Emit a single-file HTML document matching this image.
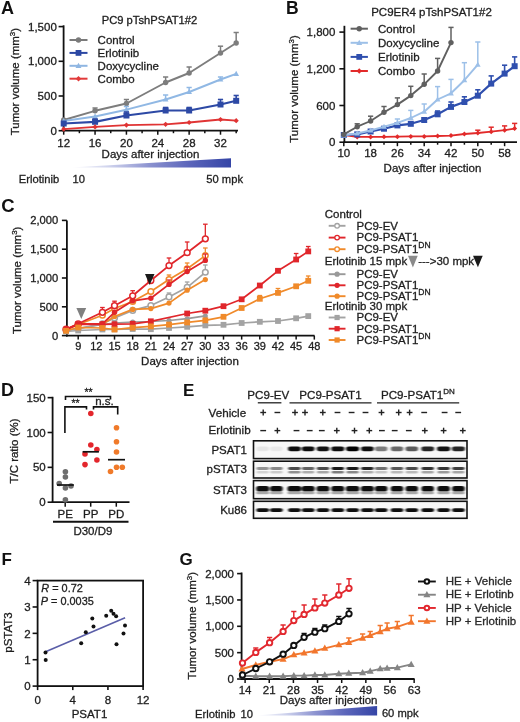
<!DOCTYPE html><html><head><meta charset="utf-8"><title>Figure</title><style>html,body{margin:0;padding:0;background:#fff;}svg{display:block;}text{font-family:"Liberation Sans", Arial, sans-serif;}</style></head><body>
<svg width="520" height="722" viewBox="0 0 520 722">
<rect width="520" height="722" fill="#fff"/>
<defs><linearGradient id="gA" x1="0" x2="1" y1="0" y2="0"><stop offset="0" stop-color="#ffffff"/><stop offset="0.25" stop-color="#cdd1ec"/><stop offset="0.5" stop-color="#8a91cf"/><stop offset="0.75" stop-color="#5a64ba"/><stop offset="1" stop-color="#3545a6"/></linearGradient><linearGradient id="gG" x1="0" x2="1" y1="0" y2="0"><stop offset="0" stop-color="#ffffff"/><stop offset="0.25" stop-color="#cdd1ec"/><stop offset="0.5" stop-color="#8a91cf"/><stop offset="0.75" stop-color="#5a64ba"/><stop offset="1" stop-color="#3545a6"/></linearGradient><filter id="blur1" x="-20%" y="-50%" width="140%" height="200%"><feGaussianBlur stdDeviation="0.9 0.6"/></filter><filter id="blur2" x="-20%" y="-50%" width="140%" height="200%"><feGaussianBlur stdDeviation="1.1"/></filter></defs>
<text x="1.00" y="13.80" font-size="18" text-anchor="start" fill="#111" stroke="#111" stroke-width="0" font-weight="bold" >A</text>
<line x1="63.60" y1="25.30" x2="63.60" y2="131.50" stroke="#111" stroke-width="1.8" />
<line x1="62.70" y1="130.70" x2="238.00" y2="130.70" stroke="#111" stroke-width="1.8" />
<line x1="58.60" y1="130.70" x2="63.60" y2="130.70" stroke="#111" stroke-width="1.6" />
<text x="56.80" y="134.70" font-size="11.5" text-anchor="end" fill="#1e1e1e" stroke="#1e1e1e" stroke-width="0.3" font-weight="normal" >0</text>
<line x1="58.60" y1="96.00" x2="63.60" y2="96.00" stroke="#111" stroke-width="1.6" />
<text x="56.80" y="100.00" font-size="11.5" text-anchor="end" fill="#1e1e1e" stroke="#1e1e1e" stroke-width="0.3" font-weight="normal" >500</text>
<line x1="58.60" y1="61.30" x2="63.60" y2="61.30" stroke="#111" stroke-width="1.6" />
<text x="56.80" y="65.30" font-size="11.5" text-anchor="end" fill="#1e1e1e" stroke="#1e1e1e" stroke-width="0.3" font-weight="normal" >1,000</text>
<line x1="58.60" y1="26.60" x2="63.60" y2="26.60" stroke="#111" stroke-width="1.6" />
<text x="56.80" y="30.60" font-size="11.5" text-anchor="end" fill="#1e1e1e" stroke="#1e1e1e" stroke-width="0.3" font-weight="normal" >1,500</text>
<line x1="63.70" y1="130.70" x2="63.70" y2="134.70" stroke="#111" stroke-width="1.5" />
<line x1="79.38" y1="130.70" x2="79.38" y2="133.20" stroke="#111" stroke-width="1.5" />
<line x1="95.06" y1="130.70" x2="95.06" y2="134.70" stroke="#111" stroke-width="1.5" />
<line x1="110.74" y1="130.70" x2="110.74" y2="133.20" stroke="#111" stroke-width="1.5" />
<line x1="126.42" y1="130.70" x2="126.42" y2="134.70" stroke="#111" stroke-width="1.5" />
<line x1="142.10" y1="130.70" x2="142.10" y2="133.20" stroke="#111" stroke-width="1.5" />
<line x1="157.78" y1="130.70" x2="157.78" y2="134.70" stroke="#111" stroke-width="1.5" />
<line x1="173.46" y1="130.70" x2="173.46" y2="133.20" stroke="#111" stroke-width="1.5" />
<line x1="189.14" y1="130.70" x2="189.14" y2="134.70" stroke="#111" stroke-width="1.5" />
<line x1="204.82" y1="130.70" x2="204.82" y2="133.20" stroke="#111" stroke-width="1.5" />
<line x1="220.50" y1="130.70" x2="220.50" y2="134.70" stroke="#111" stroke-width="1.5" />
<line x1="236.18" y1="130.70" x2="236.18" y2="133.20" stroke="#111" stroke-width="1.5" />
<text x="63.70" y="146.70" font-size="11.5" text-anchor="middle" fill="#1e1e1e" stroke="#1e1e1e" stroke-width="0.3" font-weight="normal" >12</text>
<text x="95.06" y="146.70" font-size="11.5" text-anchor="middle" fill="#1e1e1e" stroke="#1e1e1e" stroke-width="0.3" font-weight="normal" >16</text>
<text x="126.42" y="146.70" font-size="11.5" text-anchor="middle" fill="#1e1e1e" stroke="#1e1e1e" stroke-width="0.3" font-weight="normal" >20</text>
<text x="157.78" y="146.70" font-size="11.5" text-anchor="middle" fill="#1e1e1e" stroke="#1e1e1e" stroke-width="0.3" font-weight="normal" >24</text>
<text x="189.14" y="146.70" font-size="11.5" text-anchor="middle" fill="#1e1e1e" stroke="#1e1e1e" stroke-width="0.3" font-weight="normal" >28</text>
<text x="220.50" y="146.70" font-size="11.5" text-anchor="middle" fill="#1e1e1e" stroke="#1e1e1e" stroke-width="0.3" font-weight="normal" >32</text>
<text x="150.50" y="157.50" font-size="11.5" text-anchor="middle" fill="#1e1e1e" stroke="#1e1e1e" stroke-width="0.3" font-weight="normal" >Days after injection</text>
<text transform="translate(19.20,81.60) rotate(-90)" x="0" y="0" font-size="11.5" text-anchor="middle" fill="#1e1e1e" stroke="#1e1e1e" stroke-width="0.3">Tumor volume (mm<tspan dy="-4" font-size="8">3</tspan><tspan dy="4">)</tspan></text>
<text x="149.50" y="23.80" font-size="11.2" text-anchor="middle" fill="#1e1e1e" stroke="#1e1e1e" stroke-width="0.3" font-weight="normal" >PC9 pTshPSAT1#2</text>
<line x1="69.50" y1="40.00" x2="87.50" y2="40.00" stroke="#7a7a7a" stroke-width="2.0" />
<circle cx="78.50" cy="40.00" r="2.70" fill="#7a7a7a"/>
<text x="97.60" y="43.90" font-size="11.5" text-anchor="start" fill="#1e1e1e" stroke="#1e1e1e" stroke-width="0.3" font-weight="normal" >Control</text>
<line x1="69.50" y1="52.90" x2="87.50" y2="52.90" stroke="#2b47a3" stroke-width="2.0" />
<rect x="75.60" y="50.00" width="5.80" height="5.80" fill="#2b47a3"/>
<text x="97.60" y="56.80" font-size="11.5" text-anchor="start" fill="#1e1e1e" stroke="#1e1e1e" stroke-width="0.3" font-weight="normal" >Erlotinib</text>
<line x1="69.50" y1="65.80" x2="87.50" y2="65.80" stroke="#8fb6e2" stroke-width="2.0" />
<polygon points="78.50,62.70 81.47,67.96 75.53,67.96" fill="#8fb6e2"/>
<text x="97.60" y="69.70" font-size="11.5" text-anchor="start" fill="#1e1e1e" stroke="#1e1e1e" stroke-width="0.3" font-weight="normal" >Doxycycline</text>
<line x1="69.50" y1="78.70" x2="87.50" y2="78.70" stroke="#e23a3a" stroke-width="2.0" />
<polygon points="78.50,76.00 81.20,78.70 78.50,81.40 75.80,78.70" fill="#e23a3a"/>
<text x="97.60" y="82.60" font-size="11.5" text-anchor="start" fill="#1e1e1e" stroke="#1e1e1e" stroke-width="0.3" font-weight="normal" >Combo</text>
<line x1="95.06" y1="110.80" x2="95.06" y2="108.00" stroke="#7d7d7d" stroke-width="1.5" />
<line x1="92.46" y1="108.00" x2="97.66" y2="108.00" stroke="#7d7d7d" stroke-width="1.5" />
<line x1="126.42" y1="103.50" x2="126.42" y2="99.50" stroke="#7d7d7d" stroke-width="1.5" />
<line x1="123.82" y1="99.50" x2="129.02" y2="99.50" stroke="#7d7d7d" stroke-width="1.5" />
<line x1="165.62" y1="82.50" x2="165.62" y2="77.00" stroke="#7d7d7d" stroke-width="1.5" />
<line x1="163.02" y1="77.00" x2="168.22" y2="77.00" stroke="#7d7d7d" stroke-width="1.5" />
<line x1="189.14" y1="73.00" x2="189.14" y2="67.00" stroke="#7d7d7d" stroke-width="1.5" />
<line x1="186.54" y1="67.00" x2="191.74" y2="67.00" stroke="#7d7d7d" stroke-width="1.5" />
<line x1="220.50" y1="53.00" x2="220.50" y2="46.20" stroke="#7d7d7d" stroke-width="1.5" />
<line x1="217.90" y1="46.20" x2="223.10" y2="46.20" stroke="#7d7d7d" stroke-width="1.5" />
<line x1="236.18" y1="43.00" x2="236.18" y2="32.50" stroke="#7d7d7d" stroke-width="1.5" />
<line x1="233.58" y1="32.50" x2="238.78" y2="32.50" stroke="#7d7d7d" stroke-width="1.5" />
<polyline points="63.70,120.00 95.06,110.80 126.42,103.50 165.62,82.50 189.14,73.00 220.50,53.00 236.18,43.00" fill="none" stroke="#7d7d7d" stroke-width="1.9" stroke-linejoin="round" />
<circle cx="63.70" cy="120.00" r="2.70" fill="#7d7d7d"/>
<circle cx="95.06" cy="110.80" r="2.70" fill="#7d7d7d"/>
<circle cx="126.42" cy="103.50" r="2.70" fill="#7d7d7d"/>
<circle cx="165.62" cy="82.50" r="2.70" fill="#7d7d7d"/>
<circle cx="189.14" cy="73.00" r="2.70" fill="#7d7d7d"/>
<circle cx="220.50" cy="53.00" r="2.70" fill="#7d7d7d"/>
<circle cx="236.18" cy="43.00" r="2.70" fill="#7d7d7d"/>
<line x1="126.42" y1="109.70" x2="126.42" y2="106.50" stroke="#90b8e4" stroke-width="1.5" />
<line x1="123.82" y1="106.50" x2="129.02" y2="106.50" stroke="#90b8e4" stroke-width="1.5" />
<line x1="165.62" y1="99.50" x2="165.62" y2="95.00" stroke="#90b8e4" stroke-width="1.5" />
<line x1="163.02" y1="95.00" x2="168.22" y2="95.00" stroke="#90b8e4" stroke-width="1.5" />
<line x1="189.14" y1="92.00" x2="189.14" y2="87.50" stroke="#90b8e4" stroke-width="1.5" />
<line x1="186.54" y1="87.50" x2="191.74" y2="87.50" stroke="#90b8e4" stroke-width="1.5" />
<line x1="220.50" y1="79.50" x2="220.50" y2="77.00" stroke="#90b8e4" stroke-width="1.5" />
<line x1="217.90" y1="77.00" x2="223.10" y2="77.00" stroke="#90b8e4" stroke-width="1.5" />
<polyline points="63.70,121.00 95.06,116.50 126.42,109.70 165.62,99.50 189.14,92.00 220.50,79.50 236.18,73.80" fill="none" stroke="#90b8e4" stroke-width="1.9" stroke-linejoin="round" />
<polygon points="63.70,118.01 66.56,123.08 60.84,123.08" fill="#90b8e4"/>
<polygon points="95.06,113.51 97.92,118.58 92.20,118.58" fill="#90b8e4"/>
<polygon points="126.42,106.71 129.28,111.78 123.56,111.78" fill="#90b8e4"/>
<polygon points="165.62,96.51 168.48,101.58 162.76,101.58" fill="#90b8e4"/>
<polygon points="189.14,89.01 192.00,94.08 186.28,94.08" fill="#90b8e4"/>
<polygon points="220.50,76.51 223.36,81.58 217.64,81.58" fill="#90b8e4"/>
<polygon points="236.18,70.81 239.04,75.88 233.32,75.88" fill="#90b8e4"/>
<line x1="95.06" y1="121.80" x2="95.06" y2="119.00" stroke="#2d49a5" stroke-width="1.6" />
<line x1="92.46" y1="119.00" x2="97.66" y2="119.00" stroke="#2d49a5" stroke-width="1.6" />
<line x1="126.42" y1="115.50" x2="126.42" y2="112.00" stroke="#2d49a5" stroke-width="1.6" />
<line x1="123.82" y1="112.00" x2="129.02" y2="112.00" stroke="#2d49a5" stroke-width="1.6" />
<line x1="165.62" y1="110.50" x2="165.62" y2="107.50" stroke="#2d49a5" stroke-width="1.6" />
<line x1="163.02" y1="107.50" x2="168.22" y2="107.50" stroke="#2d49a5" stroke-width="1.6" />
<line x1="189.14" y1="110.50" x2="189.14" y2="107.50" stroke="#2d49a5" stroke-width="1.6" />
<line x1="186.54" y1="107.50" x2="191.74" y2="107.50" stroke="#2d49a5" stroke-width="1.6" />
<line x1="220.50" y1="104.50" x2="220.50" y2="99.50" stroke="#2d49a5" stroke-width="1.6" />
<line x1="217.90" y1="99.50" x2="223.10" y2="99.50" stroke="#2d49a5" stroke-width="1.6" />
<line x1="236.18" y1="100.80" x2="236.18" y2="95.50" stroke="#2d49a5" stroke-width="1.6" />
<line x1="233.58" y1="95.50" x2="238.78" y2="95.50" stroke="#2d49a5" stroke-width="1.6" />
<polyline points="63.70,123.50 95.06,121.80 126.42,115.50 165.62,110.50 189.14,110.50 220.50,104.50 236.18,100.80" fill="none" stroke="#2d49a5" stroke-width="2.2" stroke-linejoin="round" />
<rect x="60.70" y="120.50" width="6.00" height="6.00" fill="#2d49a5"/>
<rect x="92.06" y="118.80" width="6.00" height="6.00" fill="#2d49a5"/>
<rect x="123.42" y="112.50" width="6.00" height="6.00" fill="#2d49a5"/>
<rect x="162.62" y="107.50" width="6.00" height="6.00" fill="#2d49a5"/>
<rect x="186.14" y="107.50" width="6.00" height="6.00" fill="#2d49a5"/>
<rect x="217.50" y="101.50" width="6.00" height="6.00" fill="#2d49a5"/>
<rect x="233.18" y="97.80" width="6.00" height="6.00" fill="#2d49a5"/>
<polyline points="63.70,129.20 95.06,126.90 126.42,125.10 165.62,124.30 189.14,122.50 220.50,119.50 236.18,120.70" fill="none" stroke="#e03434" stroke-width="1.8" stroke-linejoin="round" />
<polygon points="63.70,126.60 66.30,129.20 63.70,131.80 61.10,129.20" fill="#e03434"/>
<polygon points="95.06,124.30 97.66,126.90 95.06,129.50 92.46,126.90" fill="#e03434"/>
<polygon points="126.42,122.50 129.02,125.10 126.42,127.70 123.82,125.10" fill="#e03434"/>
<polygon points="165.62,121.70 168.22,124.30 165.62,126.90 163.02,124.30" fill="#e03434"/>
<polygon points="189.14,119.90 191.74,122.50 189.14,125.10 186.54,122.50" fill="#e03434"/>
<polygon points="220.50,116.90 223.10,119.50 220.50,122.10 217.90,119.50" fill="#e03434"/>
<polygon points="236.18,118.10 238.78,120.70 236.18,123.30 233.58,120.70" fill="#e03434"/>
<polygon points="70,167.5 231,158.3 231,167.5" fill="url(#gA)"/>
<text x="18.75" y="182.70" font-size="11.2" text-anchor="start" fill="#1e1e1e" stroke="#1e1e1e" stroke-width="0.3" font-weight="normal" >Erlotinib</text>
<text x="72.50" y="182.70" font-size="11.2" text-anchor="start" fill="#1e1e1e" stroke="#1e1e1e" stroke-width="0.3" font-weight="normal" >10</text>
<text x="206.30" y="183.00" font-size="11.2" text-anchor="start" fill="#1e1e1e" stroke="#1e1e1e" stroke-width="0.3" font-weight="normal" >50 mpk</text>
<text x="286.00" y="13.60" font-size="17.5" text-anchor="start" fill="#111" stroke="#111" stroke-width="0" font-weight="bold" >B</text>
<line x1="344.40" y1="25.80" x2="344.40" y2="143.00" stroke="#111" stroke-width="1.8" />
<line x1="343.50" y1="142.20" x2="517.00" y2="142.20" stroke="#111" stroke-width="1.8" />
<line x1="339.40" y1="142.20" x2="344.40" y2="142.20" stroke="#111" stroke-width="1.6" />
<text x="335.40" y="146.20" font-size="11.5" text-anchor="end" fill="#1e1e1e" stroke="#1e1e1e" stroke-width="0.3" font-weight="normal" >0</text>
<line x1="339.40" y1="105.50" x2="344.40" y2="105.50" stroke="#111" stroke-width="1.6" />
<text x="335.40" y="109.50" font-size="11.5" text-anchor="end" fill="#1e1e1e" stroke="#1e1e1e" stroke-width="0.3" font-weight="normal" >600</text>
<line x1="339.40" y1="68.80" x2="344.40" y2="68.80" stroke="#111" stroke-width="1.6" />
<text x="335.40" y="72.80" font-size="11.5" text-anchor="end" fill="#1e1e1e" stroke="#1e1e1e" stroke-width="0.3" font-weight="normal" >1,200</text>
<line x1="339.40" y1="32.10" x2="344.40" y2="32.10" stroke="#111" stroke-width="1.6" />
<text x="335.40" y="36.10" font-size="11.5" text-anchor="end" fill="#1e1e1e" stroke="#1e1e1e" stroke-width="0.3" font-weight="normal" >1,800</text>
<line x1="343.80" y1="142.20" x2="343.80" y2="146.20" stroke="#111" stroke-width="1.5" />
<line x1="357.20" y1="142.20" x2="357.20" y2="144.70" stroke="#111" stroke-width="1.5" />
<line x1="370.60" y1="142.20" x2="370.60" y2="146.20" stroke="#111" stroke-width="1.5" />
<line x1="384.00" y1="142.20" x2="384.00" y2="144.70" stroke="#111" stroke-width="1.5" />
<line x1="397.40" y1="142.20" x2="397.40" y2="146.20" stroke="#111" stroke-width="1.5" />
<line x1="410.80" y1="142.20" x2="410.80" y2="144.70" stroke="#111" stroke-width="1.5" />
<line x1="424.20" y1="142.20" x2="424.20" y2="146.20" stroke="#111" stroke-width="1.5" />
<line x1="437.60" y1="142.20" x2="437.60" y2="144.70" stroke="#111" stroke-width="1.5" />
<line x1="451.00" y1="142.20" x2="451.00" y2="146.20" stroke="#111" stroke-width="1.5" />
<line x1="464.40" y1="142.20" x2="464.40" y2="144.70" stroke="#111" stroke-width="1.5" />
<line x1="477.80" y1="142.20" x2="477.80" y2="146.20" stroke="#111" stroke-width="1.5" />
<line x1="491.20" y1="142.20" x2="491.20" y2="144.70" stroke="#111" stroke-width="1.5" />
<line x1="504.60" y1="142.20" x2="504.60" y2="146.20" stroke="#111" stroke-width="1.5" />
<text x="343.80" y="157.40" font-size="11.5" text-anchor="middle" fill="#1e1e1e" stroke="#1e1e1e" stroke-width="0.3" font-weight="normal" >10</text>
<text x="370.60" y="157.40" font-size="11.5" text-anchor="middle" fill="#1e1e1e" stroke="#1e1e1e" stroke-width="0.3" font-weight="normal" >18</text>
<text x="397.40" y="157.40" font-size="11.5" text-anchor="middle" fill="#1e1e1e" stroke="#1e1e1e" stroke-width="0.3" font-weight="normal" >26</text>
<text x="424.20" y="157.40" font-size="11.5" text-anchor="middle" fill="#1e1e1e" stroke="#1e1e1e" stroke-width="0.3" font-weight="normal" >34</text>
<text x="451.00" y="157.40" font-size="11.5" text-anchor="middle" fill="#1e1e1e" stroke="#1e1e1e" stroke-width="0.3" font-weight="normal" >42</text>
<text x="477.80" y="157.40" font-size="11.5" text-anchor="middle" fill="#1e1e1e" stroke="#1e1e1e" stroke-width="0.3" font-weight="normal" >50</text>
<text x="504.60" y="157.40" font-size="11.5" text-anchor="middle" fill="#1e1e1e" stroke="#1e1e1e" stroke-width="0.3" font-weight="normal" >58</text>
<text x="432.50" y="172.00" font-size="11.5" text-anchor="middle" fill="#1e1e1e" stroke="#1e1e1e" stroke-width="0.3" font-weight="normal" >Days after injection</text>
<text transform="translate(297.50,89.00) rotate(-90)" x="0" y="0" font-size="11.5" text-anchor="middle" fill="#1e1e1e" stroke="#1e1e1e" stroke-width="0.3">Tumor volume (mm<tspan dy="-4" font-size="8">3</tspan><tspan dy="4">)</tspan></text>
<text x="431.50" y="16.30" font-size="11.5" text-anchor="middle" fill="#1e1e1e" stroke="#1e1e1e" stroke-width="0.3" font-weight="normal" >PC9ER4 pTshPSAT1#2</text>
<line x1="350.60" y1="28.70" x2="367.90" y2="28.70" stroke="#606060" stroke-width="2.0" />
<circle cx="359.25" cy="28.70" r="2.70" fill="#606060"/>
<text x="378.00" y="32.60" font-size="11.5" text-anchor="start" fill="#1e1e1e" stroke="#1e1e1e" stroke-width="0.3" font-weight="normal" >Control</text>
<line x1="350.60" y1="42.80" x2="367.90" y2="42.80" stroke="#9dc0e8" stroke-width="2.0" />
<polygon points="359.25,39.70 362.22,44.96 356.28,44.96" fill="#9dc0e8"/>
<text x="378.00" y="46.70" font-size="11.5" text-anchor="start" fill="#1e1e1e" stroke="#1e1e1e" stroke-width="0.3" font-weight="normal" >Doxycycline</text>
<line x1="350.60" y1="56.90" x2="367.90" y2="56.90" stroke="#2f4fae" stroke-width="2.0" />
<rect x="356.35" y="54.00" width="5.80" height="5.80" fill="#2f4fae"/>
<text x="378.00" y="60.80" font-size="11.5" text-anchor="start" fill="#1e1e1e" stroke="#1e1e1e" stroke-width="0.3" font-weight="normal" >Erlotinib</text>
<line x1="350.60" y1="71.00" x2="367.90" y2="71.00" stroke="#e22a2a" stroke-width="2.0" />
<polygon points="359.25,68.30 361.95,71.00 359.25,73.70 356.55,71.00" fill="#e22a2a"/>
<text x="378.00" y="74.90" font-size="11.5" text-anchor="start" fill="#1e1e1e" stroke="#1e1e1e" stroke-width="0.3" font-weight="normal" >Combo</text>
<line x1="477.80" y1="133.00" x2="477.80" y2="130.20" stroke="#e22a2a" stroke-width="1.5" />
<line x1="475.20" y1="130.20" x2="480.40" y2="130.20" stroke="#e22a2a" stroke-width="1.5" />
<line x1="491.20" y1="131.70" x2="491.20" y2="127.20" stroke="#e22a2a" stroke-width="1.5" />
<line x1="488.60" y1="127.20" x2="493.80" y2="127.20" stroke="#e22a2a" stroke-width="1.5" />
<line x1="504.60" y1="130.20" x2="504.60" y2="125.90" stroke="#e22a2a" stroke-width="1.5" />
<line x1="502.00" y1="125.90" x2="507.20" y2="125.90" stroke="#e22a2a" stroke-width="1.5" />
<line x1="514.65" y1="128.60" x2="514.65" y2="123.40" stroke="#e22a2a" stroke-width="1.5" />
<line x1="512.05" y1="123.40" x2="517.25" y2="123.40" stroke="#e22a2a" stroke-width="1.5" />
<polyline points="343.80,135.00 357.20,136.90 370.60,136.90 384.00,136.80 397.40,136.70 410.80,136.40 424.20,136.40 437.60,136.00 451.00,135.60 464.40,134.00 477.80,133.00 491.20,131.70 504.60,130.20 514.65,128.60" fill="none" stroke="#e22a2a" stroke-width="1.8" stroke-linejoin="round" />
<polygon points="343.80,132.50 346.30,135.00 343.80,137.50 341.30,135.00" fill="#e22a2a"/>
<polygon points="357.20,134.40 359.70,136.90 357.20,139.40 354.70,136.90" fill="#e22a2a"/>
<polygon points="370.60,134.40 373.10,136.90 370.60,139.40 368.10,136.90" fill="#e22a2a"/>
<polygon points="384.00,134.30 386.50,136.80 384.00,139.30 381.50,136.80" fill="#e22a2a"/>
<polygon points="397.40,134.20 399.90,136.70 397.40,139.20 394.90,136.70" fill="#e22a2a"/>
<polygon points="410.80,133.90 413.30,136.40 410.80,138.90 408.30,136.40" fill="#e22a2a"/>
<polygon points="424.20,133.90 426.70,136.40 424.20,138.90 421.70,136.40" fill="#e22a2a"/>
<polygon points="437.60,133.50 440.10,136.00 437.60,138.50 435.10,136.00" fill="#e22a2a"/>
<polygon points="451.00,133.10 453.50,135.60 451.00,138.10 448.50,135.60" fill="#e22a2a"/>
<polygon points="464.40,131.50 466.90,134.00 464.40,136.50 461.90,134.00" fill="#e22a2a"/>
<polygon points="477.80,130.50 480.30,133.00 477.80,135.50 475.30,133.00" fill="#e22a2a"/>
<polygon points="491.20,129.20 493.70,131.70 491.20,134.20 488.70,131.70" fill="#e22a2a"/>
<polygon points="504.60,127.70 507.10,130.20 504.60,132.70 502.10,130.20" fill="#e22a2a"/>
<polygon points="514.65,126.10 517.15,128.60 514.65,131.10 512.15,128.60" fill="#e22a2a"/>
<line x1="437.60" y1="114.30" x2="437.60" y2="111.00" stroke="#2f4fae" stroke-width="1.6" />
<line x1="435.00" y1="111.00" x2="440.20" y2="111.00" stroke="#2f4fae" stroke-width="1.6" />
<line x1="451.00" y1="106.90" x2="451.00" y2="102.00" stroke="#2f4fae" stroke-width="1.6" />
<line x1="448.40" y1="102.00" x2="453.60" y2="102.00" stroke="#2f4fae" stroke-width="1.6" />
<line x1="464.40" y1="102.00" x2="464.40" y2="96.80" stroke="#2f4fae" stroke-width="1.6" />
<line x1="461.80" y1="96.80" x2="467.00" y2="96.80" stroke="#2f4fae" stroke-width="1.6" />
<line x1="477.80" y1="95.70" x2="477.80" y2="89.80" stroke="#2f4fae" stroke-width="1.6" />
<line x1="475.20" y1="89.80" x2="480.40" y2="89.80" stroke="#2f4fae" stroke-width="1.6" />
<line x1="491.20" y1="83.60" x2="491.20" y2="75.90" stroke="#2f4fae" stroke-width="1.6" />
<line x1="488.60" y1="75.90" x2="493.80" y2="75.90" stroke="#2f4fae" stroke-width="1.6" />
<line x1="504.60" y1="73.60" x2="504.60" y2="65.20" stroke="#2f4fae" stroke-width="1.6" />
<line x1="502.00" y1="65.20" x2="507.20" y2="65.20" stroke="#2f4fae" stroke-width="1.6" />
<line x1="514.65" y1="66.20" x2="514.65" y2="56.90" stroke="#2f4fae" stroke-width="1.6" />
<line x1="512.05" y1="56.90" x2="517.25" y2="56.90" stroke="#2f4fae" stroke-width="1.6" />
<polyline points="343.80,135.00 357.20,134.40 370.60,131.50 384.00,128.70 397.40,125.40 410.80,123.80 424.20,120.00 437.60,114.30 451.00,106.90 464.40,102.00 477.80,95.70 491.20,83.60 504.60,73.60 514.65,66.20" fill="none" stroke="#2f4fae" stroke-width="2.2" stroke-linejoin="round" />
<rect x="340.80" y="132.00" width="6.00" height="6.00" fill="#2f4fae"/>
<rect x="354.20" y="131.40" width="6.00" height="6.00" fill="#2f4fae"/>
<rect x="367.60" y="128.50" width="6.00" height="6.00" fill="#2f4fae"/>
<rect x="381.00" y="125.70" width="6.00" height="6.00" fill="#2f4fae"/>
<rect x="394.40" y="122.40" width="6.00" height="6.00" fill="#2f4fae"/>
<rect x="407.80" y="120.80" width="6.00" height="6.00" fill="#2f4fae"/>
<rect x="421.20" y="117.00" width="6.00" height="6.00" fill="#2f4fae"/>
<rect x="434.60" y="111.30" width="6.00" height="6.00" fill="#2f4fae"/>
<rect x="448.00" y="103.90" width="6.00" height="6.00" fill="#2f4fae"/>
<rect x="461.40" y="99.00" width="6.00" height="6.00" fill="#2f4fae"/>
<rect x="474.80" y="92.70" width="6.00" height="6.00" fill="#2f4fae"/>
<rect x="488.20" y="80.60" width="6.00" height="6.00" fill="#2f4fae"/>
<rect x="501.60" y="70.60" width="6.00" height="6.00" fill="#2f4fae"/>
<rect x="511.65" y="63.20" width="6.00" height="6.00" fill="#2f4fae"/>
<line x1="397.40" y1="122.90" x2="397.40" y2="119.00" stroke="#9dc0e8" stroke-width="1.5" />
<line x1="394.80" y1="119.00" x2="400.00" y2="119.00" stroke="#9dc0e8" stroke-width="1.5" />
<line x1="410.80" y1="118.00" x2="410.80" y2="110.40" stroke="#9dc0e8" stroke-width="1.5" />
<line x1="408.20" y1="110.40" x2="413.40" y2="110.40" stroke="#9dc0e8" stroke-width="1.5" />
<line x1="424.20" y1="111.70" x2="424.20" y2="104.00" stroke="#9dc0e8" stroke-width="1.5" />
<line x1="421.60" y1="104.00" x2="426.80" y2="104.00" stroke="#9dc0e8" stroke-width="1.5" />
<line x1="437.60" y1="99.50" x2="437.60" y2="86.60" stroke="#9dc0e8" stroke-width="1.5" />
<line x1="435.00" y1="86.60" x2="440.20" y2="86.60" stroke="#9dc0e8" stroke-width="1.5" />
<line x1="451.00" y1="93.30" x2="451.00" y2="79.40" stroke="#9dc0e8" stroke-width="1.5" />
<line x1="448.40" y1="79.40" x2="453.60" y2="79.40" stroke="#9dc0e8" stroke-width="1.5" />
<line x1="464.40" y1="80.20" x2="464.40" y2="62.70" stroke="#9dc0e8" stroke-width="1.5" />
<line x1="461.80" y1="62.70" x2="467.00" y2="62.70" stroke="#9dc0e8" stroke-width="1.5" />
<line x1="477.80" y1="64.70" x2="477.80" y2="42.00" stroke="#9dc0e8" stroke-width="1.5" />
<line x1="475.20" y1="42.00" x2="480.40" y2="42.00" stroke="#9dc0e8" stroke-width="1.5" />
<polyline points="343.80,135.40 357.20,133.50 370.60,130.50 384.00,126.70 397.40,122.90 410.80,118.00 424.20,111.70 437.60,99.50 451.00,93.30 464.40,80.20 477.80,64.70" fill="none" stroke="#9dc0e8" stroke-width="1.9" stroke-linejoin="round" />
<polygon points="343.80,132.41 346.66,137.48 340.94,137.48" fill="#9dc0e8"/>
<polygon points="357.20,130.51 360.06,135.58 354.34,135.58" fill="#9dc0e8"/>
<polygon points="370.60,127.51 373.46,132.58 367.74,132.58" fill="#9dc0e8"/>
<polygon points="384.00,123.71 386.86,128.78 381.14,128.78" fill="#9dc0e8"/>
<polygon points="397.40,119.91 400.26,124.98 394.54,124.98" fill="#9dc0e8"/>
<polygon points="410.80,115.01 413.66,120.08 407.94,120.08" fill="#9dc0e8"/>
<polygon points="424.20,108.71 427.06,113.78 421.34,113.78" fill="#9dc0e8"/>
<polygon points="437.60,96.51 440.46,101.58 434.74,101.58" fill="#9dc0e8"/>
<polygon points="451.00,90.31 453.86,95.38 448.14,95.38" fill="#9dc0e8"/>
<polygon points="464.40,77.21 467.26,82.28 461.54,82.28" fill="#9dc0e8"/>
<polygon points="477.80,61.71 480.66,66.78 474.94,66.78" fill="#9dc0e8"/>
<line x1="357.20" y1="126.70" x2="357.20" y2="123.80" stroke="#606060" stroke-width="1.5" />
<line x1="354.60" y1="123.80" x2="359.80" y2="123.80" stroke="#606060" stroke-width="1.5" />
<line x1="370.60" y1="121.00" x2="370.60" y2="116.20" stroke="#606060" stroke-width="1.5" />
<line x1="368.00" y1="116.20" x2="373.20" y2="116.20" stroke="#606060" stroke-width="1.5" />
<line x1="384.00" y1="112.30" x2="384.00" y2="106.50" stroke="#606060" stroke-width="1.5" />
<line x1="381.40" y1="106.50" x2="386.60" y2="106.50" stroke="#606060" stroke-width="1.5" />
<line x1="397.40" y1="104.60" x2="397.40" y2="97.90" stroke="#606060" stroke-width="1.5" />
<line x1="394.80" y1="97.90" x2="400.00" y2="97.90" stroke="#606060" stroke-width="1.5" />
<line x1="410.80" y1="95.60" x2="410.80" y2="86.30" stroke="#606060" stroke-width="1.5" />
<line x1="408.20" y1="86.30" x2="413.40" y2="86.30" stroke="#606060" stroke-width="1.5" />
<line x1="424.20" y1="84.30" x2="424.20" y2="74.00" stroke="#606060" stroke-width="1.5" />
<line x1="421.60" y1="74.00" x2="426.80" y2="74.00" stroke="#606060" stroke-width="1.5" />
<line x1="437.60" y1="71.00" x2="437.60" y2="58.40" stroke="#606060" stroke-width="1.5" />
<line x1="435.00" y1="58.40" x2="440.20" y2="58.40" stroke="#606060" stroke-width="1.5" />
<line x1="451.00" y1="42.60" x2="451.00" y2="27.40" stroke="#606060" stroke-width="1.5" />
<line x1="448.40" y1="27.40" x2="453.60" y2="27.40" stroke="#606060" stroke-width="1.5" />
<polyline points="343.80,134.40 357.20,126.70 370.60,121.00 384.00,112.30 397.40,104.60 410.80,95.60 424.20,84.30 437.60,71.00 451.00,42.60" fill="none" stroke="#606060" stroke-width="1.9" stroke-linejoin="round" />
<circle cx="343.80" cy="134.40" r="2.70" fill="#606060"/>
<circle cx="357.20" cy="126.70" r="2.70" fill="#606060"/>
<circle cx="370.60" cy="121.00" r="2.70" fill="#606060"/>
<circle cx="384.00" cy="112.30" r="2.70" fill="#606060"/>
<circle cx="397.40" cy="104.60" r="2.70" fill="#606060"/>
<circle cx="410.80" cy="95.60" r="2.70" fill="#606060"/>
<circle cx="424.20" cy="84.30" r="2.70" fill="#606060"/>
<circle cx="437.60" cy="71.00" r="2.70" fill="#606060"/>
<circle cx="451.00" cy="42.60" r="2.70" fill="#606060"/>
<text x="1.20" y="211.80" font-size="18.5" text-anchor="start" fill="#111" stroke="#111" stroke-width="0" font-weight="bold" >C</text>
<line x1="66.90" y1="220.50" x2="66.90" y2="336.40" stroke="#111" stroke-width="1.8" />
<line x1="66.00" y1="335.60" x2="314.50" y2="335.60" stroke="#111" stroke-width="1.8" />
<line x1="61.90" y1="335.60" x2="66.90" y2="335.60" stroke="#111" stroke-width="1.6" />
<text x="58.20" y="339.60" font-size="11.2" text-anchor="end" fill="#1e1e1e" stroke="#1e1e1e" stroke-width="0.3" font-weight="normal" >0</text>
<line x1="61.90" y1="306.80" x2="66.90" y2="306.80" stroke="#111" stroke-width="1.6" />
<text x="58.20" y="310.80" font-size="11.2" text-anchor="end" fill="#1e1e1e" stroke="#1e1e1e" stroke-width="0.3" font-weight="normal" >500</text>
<line x1="61.90" y1="278.00" x2="66.90" y2="278.00" stroke="#111" stroke-width="1.6" />
<text x="58.20" y="282.00" font-size="11.2" text-anchor="end" fill="#1e1e1e" stroke="#1e1e1e" stroke-width="0.3" font-weight="normal" >1,000</text>
<line x1="61.90" y1="249.20" x2="66.90" y2="249.20" stroke="#111" stroke-width="1.6" />
<text x="58.20" y="253.20" font-size="11.2" text-anchor="end" fill="#1e1e1e" stroke="#1e1e1e" stroke-width="0.3" font-weight="normal" >1,500</text>
<line x1="61.90" y1="220.40" x2="66.90" y2="220.40" stroke="#111" stroke-width="1.6" />
<text x="58.20" y="224.40" font-size="11.2" text-anchor="end" fill="#1e1e1e" stroke="#1e1e1e" stroke-width="0.3" font-weight="normal" >2,000</text>
<line x1="78.20" y1="335.60" x2="78.20" y2="339.60" stroke="#111" stroke-width="1.5" />
<text x="78.20" y="350.10" font-size="11" text-anchor="middle" fill="#1e1e1e" stroke="#1e1e1e" stroke-width="0.3" font-weight="normal" >9</text>
<line x1="96.36" y1="335.60" x2="96.36" y2="339.60" stroke="#111" stroke-width="1.5" />
<text x="96.36" y="350.10" font-size="11" text-anchor="middle" fill="#1e1e1e" stroke="#1e1e1e" stroke-width="0.3" font-weight="normal" >12</text>
<line x1="114.52" y1="335.60" x2="114.52" y2="339.60" stroke="#111" stroke-width="1.5" />
<text x="114.52" y="350.10" font-size="11" text-anchor="middle" fill="#1e1e1e" stroke="#1e1e1e" stroke-width="0.3" font-weight="normal" >15</text>
<line x1="132.69" y1="335.60" x2="132.69" y2="339.60" stroke="#111" stroke-width="1.5" />
<text x="132.69" y="350.10" font-size="11" text-anchor="middle" fill="#1e1e1e" stroke="#1e1e1e" stroke-width="0.3" font-weight="normal" >18</text>
<line x1="150.85" y1="335.60" x2="150.85" y2="339.60" stroke="#111" stroke-width="1.5" />
<text x="150.85" y="350.10" font-size="11" text-anchor="middle" fill="#1e1e1e" stroke="#1e1e1e" stroke-width="0.3" font-weight="normal" >21</text>
<line x1="169.01" y1="335.60" x2="169.01" y2="339.60" stroke="#111" stroke-width="1.5" />
<text x="169.01" y="350.10" font-size="11" text-anchor="middle" fill="#1e1e1e" stroke="#1e1e1e" stroke-width="0.3" font-weight="normal" >24</text>
<line x1="187.17" y1="335.60" x2="187.17" y2="339.60" stroke="#111" stroke-width="1.5" />
<text x="187.17" y="350.10" font-size="11" text-anchor="middle" fill="#1e1e1e" stroke="#1e1e1e" stroke-width="0.3" font-weight="normal" >27</text>
<line x1="205.33" y1="335.60" x2="205.33" y2="339.60" stroke="#111" stroke-width="1.5" />
<text x="205.33" y="350.10" font-size="11" text-anchor="middle" fill="#1e1e1e" stroke="#1e1e1e" stroke-width="0.3" font-weight="normal" >30</text>
<line x1="223.50" y1="335.60" x2="223.50" y2="339.60" stroke="#111" stroke-width="1.5" />
<text x="223.50" y="350.10" font-size="11" text-anchor="middle" fill="#1e1e1e" stroke="#1e1e1e" stroke-width="0.3" font-weight="normal" >33</text>
<line x1="241.66" y1="335.60" x2="241.66" y2="339.60" stroke="#111" stroke-width="1.5" />
<text x="241.66" y="350.10" font-size="11" text-anchor="middle" fill="#1e1e1e" stroke="#1e1e1e" stroke-width="0.3" font-weight="normal" >36</text>
<line x1="259.82" y1="335.60" x2="259.82" y2="339.60" stroke="#111" stroke-width="1.5" />
<text x="259.82" y="350.10" font-size="11" text-anchor="middle" fill="#1e1e1e" stroke="#1e1e1e" stroke-width="0.3" font-weight="normal" >39</text>
<line x1="277.98" y1="335.60" x2="277.98" y2="339.60" stroke="#111" stroke-width="1.5" />
<text x="277.98" y="350.10" font-size="11" text-anchor="middle" fill="#1e1e1e" stroke="#1e1e1e" stroke-width="0.3" font-weight="normal" >42</text>
<line x1="296.14" y1="335.60" x2="296.14" y2="339.60" stroke="#111" stroke-width="1.5" />
<text x="296.14" y="350.10" font-size="11" text-anchor="middle" fill="#1e1e1e" stroke="#1e1e1e" stroke-width="0.3" font-weight="normal" >45</text>
<line x1="314.31" y1="335.60" x2="314.31" y2="339.60" stroke="#111" stroke-width="1.5" />
<text x="314.31" y="350.10" font-size="11" text-anchor="middle" fill="#1e1e1e" stroke="#1e1e1e" stroke-width="0.3" font-weight="normal" >48</text>
<text x="190.00" y="365.20" font-size="11.5" text-anchor="middle" fill="#1e1e1e" stroke="#1e1e1e" stroke-width="0.3" font-weight="normal" >Days after injection</text>
<text transform="translate(20.60,280.30) rotate(-90)" x="0" y="0" font-size="11.5" text-anchor="middle" fill="#1e1e1e" stroke="#1e1e1e" stroke-width="0.3">Tumor volume (mm<tspan dy="-4" font-size="8">3</tspan><tspan dy="4">)</tspan></text>
<polyline points="66.09,330.50 78.20,328.50 102.42,324.50 114.52,323.00 132.69,322.00 150.85,321.50 169.01,320.50 187.17,318.70 205.33,315.90" fill="none" stroke="#9a9a9a" stroke-width="1.7" stroke-linejoin="round" />
<circle cx="66.09" cy="330.50" r="2.50" fill="#9a9a9a"/>
<circle cx="78.20" cy="328.50" r="2.50" fill="#9a9a9a"/>
<circle cx="102.42" cy="324.50" r="2.50" fill="#9a9a9a"/>
<circle cx="114.52" cy="323.00" r="2.50" fill="#9a9a9a"/>
<circle cx="132.69" cy="322.00" r="2.50" fill="#9a9a9a"/>
<circle cx="150.85" cy="321.50" r="2.50" fill="#9a9a9a"/>
<circle cx="169.01" cy="320.50" r="2.50" fill="#9a9a9a"/>
<circle cx="187.17" cy="318.70" r="2.50" fill="#9a9a9a"/>
<circle cx="205.33" cy="315.90" r="2.50" fill="#9a9a9a"/>
<line x1="169.01" y1="296.90" x2="169.01" y2="293.00" stroke="#a3a3a3" stroke-width="1.3" />
<line x1="166.71" y1="293.00" x2="171.31" y2="293.00" stroke="#a3a3a3" stroke-width="1.3" />
<line x1="187.17" y1="287.30" x2="187.17" y2="282.00" stroke="#a3a3a3" stroke-width="1.3" />
<line x1="184.87" y1="282.00" x2="189.47" y2="282.00" stroke="#a3a3a3" stroke-width="1.3" />
<line x1="205.33" y1="272.30" x2="205.33" y2="265.00" stroke="#a3a3a3" stroke-width="1.3" />
<line x1="203.03" y1="265.00" x2="207.63" y2="265.00" stroke="#a3a3a3" stroke-width="1.3" />
<polyline points="66.09,330.50 78.20,328.50 102.42,323.80 114.52,318.00 132.69,310.40 150.85,305.60 169.01,296.90 187.17,287.30 205.33,272.30" fill="none" stroke="#a3a3a3" stroke-width="1.7" stroke-linejoin="round" />
<circle cx="66.09" cy="330.50" r="2.80" fill="#fff" stroke="#a3a3a3" stroke-width="1.5"/>
<circle cx="78.20" cy="328.50" r="2.80" fill="#fff" stroke="#a3a3a3" stroke-width="1.5"/>
<circle cx="102.42" cy="323.80" r="2.80" fill="#fff" stroke="#a3a3a3" stroke-width="1.5"/>
<circle cx="114.52" cy="318.00" r="2.80" fill="#fff" stroke="#a3a3a3" stroke-width="1.5"/>
<circle cx="132.69" cy="310.40" r="2.80" fill="#fff" stroke="#a3a3a3" stroke-width="1.5"/>
<circle cx="150.85" cy="305.60" r="2.80" fill="#fff" stroke="#a3a3a3" stroke-width="1.5"/>
<circle cx="169.01" cy="296.90" r="2.80" fill="#fff" stroke="#a3a3a3" stroke-width="1.5"/>
<circle cx="187.17" cy="287.30" r="2.80" fill="#fff" stroke="#a3a3a3" stroke-width="1.5"/>
<circle cx="205.33" cy="272.30" r="2.80" fill="#fff" stroke="#a3a3a3" stroke-width="1.5"/>
<polyline points="66.09,329.80 78.20,324.20 102.42,324.20 114.52,316.50 132.69,309.40 150.85,308.60 169.01,303.10 187.17,290.20 205.33,279.60" fill="none" stroke="#f08a2a" stroke-width="1.7" stroke-linejoin="round" />
<circle cx="66.09" cy="329.80" r="2.60" fill="#f08a2a"/>
<circle cx="78.20" cy="324.20" r="2.60" fill="#f08a2a"/>
<circle cx="102.42" cy="324.20" r="2.60" fill="#f08a2a"/>
<circle cx="114.52" cy="316.50" r="2.60" fill="#f08a2a"/>
<circle cx="132.69" cy="309.40" r="2.60" fill="#f08a2a"/>
<circle cx="150.85" cy="308.60" r="2.60" fill="#f08a2a"/>
<circle cx="169.01" cy="303.10" r="2.60" fill="#f08a2a"/>
<circle cx="187.17" cy="290.20" r="2.60" fill="#f08a2a"/>
<circle cx="205.33" cy="279.60" r="2.60" fill="#f08a2a"/>
<line x1="169.01" y1="279.50" x2="169.01" y2="275.00" stroke="#f08a2a" stroke-width="1.3" />
<line x1="166.71" y1="275.00" x2="171.31" y2="275.00" stroke="#f08a2a" stroke-width="1.3" />
<line x1="187.17" y1="268.80" x2="187.17" y2="263.00" stroke="#f08a2a" stroke-width="1.3" />
<line x1="184.87" y1="263.00" x2="189.47" y2="263.00" stroke="#f08a2a" stroke-width="1.3" />
<line x1="205.33" y1="255.60" x2="205.33" y2="248.00" stroke="#f08a2a" stroke-width="1.3" />
<line x1="203.03" y1="248.00" x2="207.63" y2="248.00" stroke="#f08a2a" stroke-width="1.3" />
<polyline points="66.09,329.60 78.20,324.50 102.42,315.20 114.52,308.50 132.69,301.50 150.85,291.50 169.01,279.50 187.17,268.80 205.33,255.60" fill="none" stroke="#f08a2a" stroke-width="1.7" stroke-linejoin="round" />
<circle cx="66.09" cy="329.60" r="2.80" fill="#fff" stroke="#f08a2a" stroke-width="1.5"/>
<circle cx="78.20" cy="324.50" r="2.80" fill="#fff" stroke="#f08a2a" stroke-width="1.5"/>
<circle cx="102.42" cy="315.20" r="2.80" fill="#fff" stroke="#f08a2a" stroke-width="1.5"/>
<circle cx="114.52" cy="308.50" r="2.80" fill="#fff" stroke="#f08a2a" stroke-width="1.5"/>
<circle cx="132.69" cy="301.50" r="2.80" fill="#fff" stroke="#f08a2a" stroke-width="1.5"/>
<circle cx="150.85" cy="291.50" r="2.80" fill="#fff" stroke="#f08a2a" stroke-width="1.5"/>
<circle cx="169.01" cy="279.50" r="2.80" fill="#fff" stroke="#f08a2a" stroke-width="1.5"/>
<circle cx="187.17" cy="268.80" r="2.80" fill="#fff" stroke="#f08a2a" stroke-width="1.5"/>
<circle cx="205.33" cy="255.60" r="2.80" fill="#fff" stroke="#f08a2a" stroke-width="1.5"/>
<line x1="169.01" y1="284.40" x2="169.01" y2="280.00" stroke="#e0262b" stroke-width="1.3" />
<line x1="166.71" y1="280.00" x2="171.31" y2="280.00" stroke="#e0262b" stroke-width="1.3" />
<line x1="187.17" y1="271.50" x2="187.17" y2="267.00" stroke="#e0262b" stroke-width="1.3" />
<line x1="184.87" y1="267.00" x2="189.47" y2="267.00" stroke="#e0262b" stroke-width="1.3" />
<line x1="205.33" y1="260.40" x2="205.33" y2="254.00" stroke="#e0262b" stroke-width="1.3" />
<line x1="203.03" y1="254.00" x2="207.63" y2="254.00" stroke="#e0262b" stroke-width="1.3" />
<polyline points="66.09,329.60 78.20,323.80 102.42,323.80 114.52,312.30 132.69,300.80 150.85,298.20 169.01,284.40 187.17,271.50 205.33,260.40" fill="none" stroke="#e0262b" stroke-width="1.8" stroke-linejoin="round" />
<circle cx="66.09" cy="329.60" r="2.70" fill="#e0262b"/>
<circle cx="78.20" cy="323.80" r="2.70" fill="#e0262b"/>
<circle cx="102.42" cy="323.80" r="2.70" fill="#e0262b"/>
<circle cx="114.52" cy="312.30" r="2.70" fill="#e0262b"/>
<circle cx="132.69" cy="300.80" r="2.70" fill="#e0262b"/>
<circle cx="150.85" cy="298.20" r="2.70" fill="#e0262b"/>
<circle cx="169.01" cy="284.40" r="2.70" fill="#e0262b"/>
<circle cx="187.17" cy="271.50" r="2.70" fill="#e0262b"/>
<circle cx="205.33" cy="260.40" r="2.70" fill="#e0262b"/>
<line x1="102.42" y1="312.30" x2="102.42" y2="307.50" stroke="#e0262b" stroke-width="1.3" />
<line x1="100.12" y1="307.50" x2="104.72" y2="307.50" stroke="#e0262b" stroke-width="1.3" />
<line x1="114.52" y1="305.70" x2="114.52" y2="301.20" stroke="#e0262b" stroke-width="1.3" />
<line x1="112.22" y1="301.20" x2="116.82" y2="301.20" stroke="#e0262b" stroke-width="1.3" />
<line x1="132.69" y1="295.80" x2="132.69" y2="290.70" stroke="#e0262b" stroke-width="1.3" />
<line x1="130.39" y1="290.70" x2="134.99" y2="290.70" stroke="#e0262b" stroke-width="1.3" />
<line x1="169.01" y1="265.60" x2="169.01" y2="258.00" stroke="#e0262b" stroke-width="1.3" />
<line x1="166.71" y1="258.00" x2="171.31" y2="258.00" stroke="#e0262b" stroke-width="1.3" />
<line x1="187.17" y1="252.70" x2="187.17" y2="242.00" stroke="#e0262b" stroke-width="1.3" />
<line x1="184.87" y1="242.00" x2="189.47" y2="242.00" stroke="#e0262b" stroke-width="1.3" />
<line x1="205.33" y1="238.80" x2="205.33" y2="224.20" stroke="#e0262b" stroke-width="1.3" />
<line x1="203.03" y1="224.20" x2="207.63" y2="224.20" stroke="#e0262b" stroke-width="1.3" />
<polyline points="66.09,329.20 78.20,323.80 102.42,312.30 114.52,305.70 132.69,295.80 150.85,280.50 169.01,265.60 187.17,252.70 205.33,238.80" fill="none" stroke="#e0262b" stroke-width="1.8" stroke-linejoin="round" />
<circle cx="66.09" cy="329.20" r="2.90" fill="#fff" stroke="#e0262b" stroke-width="1.5"/>
<circle cx="78.20" cy="323.80" r="2.90" fill="#fff" stroke="#e0262b" stroke-width="1.5"/>
<circle cx="102.42" cy="312.30" r="2.90" fill="#fff" stroke="#e0262b" stroke-width="1.5"/>
<circle cx="114.52" cy="305.70" r="2.90" fill="#fff" stroke="#e0262b" stroke-width="1.5"/>
<circle cx="132.69" cy="295.80" r="2.90" fill="#fff" stroke="#e0262b" stroke-width="1.5"/>
<circle cx="150.85" cy="280.50" r="2.90" fill="#fff" stroke="#e0262b" stroke-width="1.5"/>
<circle cx="169.01" cy="265.60" r="2.90" fill="#fff" stroke="#e0262b" stroke-width="1.5"/>
<circle cx="187.17" cy="252.70" r="2.90" fill="#fff" stroke="#e0262b" stroke-width="1.5"/>
<circle cx="205.33" cy="238.80" r="2.90" fill="#fff" stroke="#e0262b" stroke-width="1.5"/>
<polyline points="66.09,331.50 78.20,330.50 102.42,329.50 114.52,329.30 132.69,329.00 150.85,329.20 169.01,328.00 187.17,326.80 205.33,325.40 223.50,324.80 241.66,323.00 259.82,321.80 277.98,321.00 296.14,318.30 308.25,316.10" fill="none" stroke="#a3a3a3" stroke-width="1.7" stroke-linejoin="round" />
<rect x="63.19" y="328.60" width="5.80" height="5.80" fill="#a3a3a3"/>
<rect x="75.30" y="327.60" width="5.80" height="5.80" fill="#a3a3a3"/>
<rect x="99.52" y="326.60" width="5.80" height="5.80" fill="#a3a3a3"/>
<rect x="111.62" y="326.40" width="5.80" height="5.80" fill="#a3a3a3"/>
<rect x="129.79" y="326.10" width="5.80" height="5.80" fill="#a3a3a3"/>
<rect x="147.95" y="326.30" width="5.80" height="5.80" fill="#a3a3a3"/>
<rect x="166.11" y="325.10" width="5.80" height="5.80" fill="#a3a3a3"/>
<rect x="184.27" y="323.90" width="5.80" height="5.80" fill="#a3a3a3"/>
<rect x="202.43" y="322.50" width="5.80" height="5.80" fill="#a3a3a3"/>
<rect x="220.60" y="321.90" width="5.80" height="5.80" fill="#a3a3a3"/>
<rect x="238.76" y="320.10" width="5.80" height="5.80" fill="#a3a3a3"/>
<rect x="256.92" y="318.90" width="5.80" height="5.80" fill="#a3a3a3"/>
<rect x="275.08" y="318.10" width="5.80" height="5.80" fill="#a3a3a3"/>
<rect x="293.24" y="315.40" width="5.80" height="5.80" fill="#a3a3a3"/>
<rect x="305.35" y="313.20" width="5.80" height="5.80" fill="#a3a3a3"/>
<line x1="296.14" y1="259.50" x2="296.14" y2="253.50" stroke="#e0262b" stroke-width="1.3" />
<line x1="293.84" y1="253.50" x2="298.44" y2="253.50" stroke="#e0262b" stroke-width="1.3" />
<line x1="308.25" y1="251.40" x2="308.25" y2="246.50" stroke="#e0262b" stroke-width="1.3" />
<line x1="305.95" y1="246.50" x2="310.55" y2="246.50" stroke="#e0262b" stroke-width="1.3" />
<polyline points="66.09,329.80 78.20,324.30 102.42,324.30 114.52,324.20 132.69,323.80 150.85,321.30 187.17,313.50 205.33,310.70 223.50,306.20 241.66,299.30 259.82,285.50 277.98,270.80 296.14,259.50 308.25,251.40" fill="none" stroke="#e0262b" stroke-width="1.7" stroke-linejoin="round" />
<rect x="63.19" y="326.90" width="5.80" height="5.80" fill="#e0262b"/>
<rect x="75.30" y="321.40" width="5.80" height="5.80" fill="#e0262b"/>
<rect x="99.52" y="321.40" width="5.80" height="5.80" fill="#e0262b"/>
<rect x="111.62" y="321.30" width="5.80" height="5.80" fill="#e0262b"/>
<rect x="129.79" y="320.90" width="5.80" height="5.80" fill="#e0262b"/>
<rect x="147.95" y="318.40" width="5.80" height="5.80" fill="#e0262b"/>
<rect x="184.27" y="310.60" width="5.80" height="5.80" fill="#e0262b"/>
<rect x="202.43" y="307.80" width="5.80" height="5.80" fill="#e0262b"/>
<rect x="220.60" y="303.30" width="5.80" height="5.80" fill="#e0262b"/>
<rect x="238.76" y="296.40" width="5.80" height="5.80" fill="#e0262b"/>
<rect x="256.92" y="282.60" width="5.80" height="5.80" fill="#e0262b"/>
<rect x="275.08" y="267.90" width="5.80" height="5.80" fill="#e0262b"/>
<rect x="293.24" y="256.60" width="5.80" height="5.80" fill="#e0262b"/>
<rect x="305.35" y="248.50" width="5.80" height="5.80" fill="#e0262b"/>
<line x1="259.82" y1="298.80" x2="259.82" y2="295.50" stroke="#f08a2a" stroke-width="1.3" />
<line x1="257.52" y1="295.50" x2="262.12" y2="295.50" stroke="#f08a2a" stroke-width="1.3" />
<line x1="277.98" y1="292.90" x2="277.98" y2="288.50" stroke="#f08a2a" stroke-width="1.3" />
<line x1="275.68" y1="288.50" x2="280.28" y2="288.50" stroke="#f08a2a" stroke-width="1.3" />
<line x1="308.25" y1="280.80" x2="308.25" y2="276.00" stroke="#f08a2a" stroke-width="1.3" />
<line x1="305.95" y1="276.00" x2="310.55" y2="276.00" stroke="#f08a2a" stroke-width="1.3" />
<polyline points="66.09,330.80 78.20,327.50 102.42,328.00 114.52,329.50 132.69,327.70 150.85,326.40 169.01,324.60 187.17,322.40 205.33,320.30 223.50,316.80 241.66,308.00 259.82,298.80 277.98,292.90 296.14,286.30 308.25,280.80" fill="none" stroke="#f08a2a" stroke-width="1.7" stroke-linejoin="round" />
<rect x="63.19" y="327.90" width="5.80" height="5.80" fill="#f08a2a"/>
<rect x="75.30" y="324.60" width="5.80" height="5.80" fill="#f08a2a"/>
<rect x="99.52" y="325.10" width="5.80" height="5.80" fill="#f08a2a"/>
<rect x="111.62" y="326.60" width="5.80" height="5.80" fill="#f08a2a"/>
<rect x="129.79" y="324.80" width="5.80" height="5.80" fill="#f08a2a"/>
<rect x="147.95" y="323.50" width="5.80" height="5.80" fill="#f08a2a"/>
<rect x="166.11" y="321.70" width="5.80" height="5.80" fill="#f08a2a"/>
<rect x="184.27" y="319.50" width="5.80" height="5.80" fill="#f08a2a"/>
<rect x="202.43" y="317.40" width="5.80" height="5.80" fill="#f08a2a"/>
<rect x="220.60" y="313.90" width="5.80" height="5.80" fill="#f08a2a"/>
<rect x="238.76" y="305.10" width="5.80" height="5.80" fill="#f08a2a"/>
<rect x="256.92" y="295.90" width="5.80" height="5.80" fill="#f08a2a"/>
<rect x="275.08" y="290.00" width="5.80" height="5.80" fill="#f08a2a"/>
<rect x="293.24" y="283.40" width="5.80" height="5.80" fill="#f08a2a"/>
<rect x="305.35" y="277.90" width="5.80" height="5.80" fill="#f08a2a"/>
<polygon points="76.4,308 86.2,308 81.3,319" fill="#808080"/>
<polygon points="145,274 154.5,274 149.7,285" fill="#1a1a1a"/>
<text x="324.80" y="218.00" font-size="11.5" text-anchor="start" fill="#1e1e1e" stroke="#1e1e1e" stroke-width="0.3" font-weight="normal" >Control</text>
<line x1="328.70" y1="225.80" x2="345.50" y2="225.80" stroke="#a3a3a3" stroke-width="1.9" />
<circle cx="337.10" cy="225.80" r="2.30" fill="#fff" stroke="#a3a3a3" stroke-width="1.3"/>
<text x="356.50" y="229.60" font-size="11.5" text-anchor="start" fill="#1e1e1e" stroke="#1e1e1e" stroke-width="0.3" font-weight="normal" >PC9-EV</text>
<line x1="328.70" y1="237.60" x2="345.50" y2="237.60" stroke="#e0262b" stroke-width="1.9" />
<circle cx="337.10" cy="237.60" r="2.30" fill="#fff" stroke="#e0262b" stroke-width="1.3"/>
<text x="356.50" y="241.40" font-size="11.5" text-anchor="start" fill="#1e1e1e" stroke="#1e1e1e" stroke-width="0.3" font-weight="normal" >PC9-PSAT1</text>
<line x1="328.70" y1="249.20" x2="345.50" y2="249.20" stroke="#f08a2a" stroke-width="1.9" />
<circle cx="337.10" cy="249.20" r="2.30" fill="#fff" stroke="#f08a2a" stroke-width="1.3"/>
<text x="356.50" y="253.00" font-size="11.5" text-anchor="start" fill="#1e1e1e" stroke="#1e1e1e" stroke-width="0.3" font-weight="normal" >PC9-PSAT1<tspan dy="-5" font-size="8.5">DN</tspan></text>
<text x="324.80" y="265.00" font-size="11.5" text-anchor="start" fill="#1e1e1e" stroke="#1e1e1e" stroke-width="0.3" font-weight="normal" >Erlotinib 15 mpk</text>
<polygon points="408,255.8 417.7,255.8 412.9,267.5" fill="#8a8a8a"/>
<text x="418.20" y="265.00" font-size="11.5" text-anchor="start" fill="#1e1e1e" stroke="#1e1e1e" stroke-width="0.3" font-weight="normal" >---&gt;30 mpk</text>
<polygon points="473,255.8 482.7,255.8 477.9,267.3" fill="#1a1a1a"/>
<line x1="328.70" y1="274.20" x2="345.50" y2="274.20" stroke="#999" stroke-width="1.9" />
<circle cx="337.10" cy="274.20" r="2.60" fill="#999"/>
<text x="356.50" y="278.00" font-size="11.5" text-anchor="start" fill="#1e1e1e" stroke="#1e1e1e" stroke-width="0.3" font-weight="normal" >PC9-EV</text>
<line x1="328.70" y1="285.30" x2="345.50" y2="285.30" stroke="#e0262b" stroke-width="1.9" />
<circle cx="337.10" cy="285.30" r="2.60" fill="#e0262b"/>
<text x="356.50" y="289.10" font-size="11.5" text-anchor="start" fill="#1e1e1e" stroke="#1e1e1e" stroke-width="0.3" font-weight="normal" >PC9-PSAT1</text>
<line x1="328.70" y1="296.20" x2="345.50" y2="296.20" stroke="#f08a2a" stroke-width="1.9" />
<circle cx="337.10" cy="296.20" r="2.60" fill="#f08a2a"/>
<text x="356.50" y="300.00" font-size="11.5" text-anchor="start" fill="#1e1e1e" stroke="#1e1e1e" stroke-width="0.3" font-weight="normal" >PC9-PSAT1<tspan dy="-5" font-size="8.5">DN</tspan></text>
<text x="324.80" y="310.30" font-size="11.5" text-anchor="start" fill="#1e1e1e" stroke="#1e1e1e" stroke-width="0.3" font-weight="normal" >Erlotinib 30 mpk</text>
<line x1="328.70" y1="317.50" x2="345.50" y2="317.50" stroke="#a3a3a3" stroke-width="1.9" />
<rect x="334.50" y="314.90" width="5.20" height="5.20" fill="#a3a3a3"/>
<text x="356.50" y="321.30" font-size="11.5" text-anchor="start" fill="#1e1e1e" stroke="#1e1e1e" stroke-width="0.3" font-weight="normal" >PC9-EV</text>
<line x1="328.70" y1="328.70" x2="345.50" y2="328.70" stroke="#e0262b" stroke-width="1.9" />
<rect x="334.50" y="326.10" width="5.20" height="5.20" fill="#e0262b"/>
<text x="356.50" y="332.50" font-size="11.5" text-anchor="start" fill="#1e1e1e" stroke="#1e1e1e" stroke-width="0.3" font-weight="normal" >PC9-PSAT1</text>
<line x1="328.70" y1="340.00" x2="345.50" y2="340.00" stroke="#f08a2a" stroke-width="1.9" />
<rect x="334.50" y="337.40" width="5.20" height="5.20" fill="#f08a2a"/>
<text x="356.50" y="343.80" font-size="11.5" text-anchor="start" fill="#1e1e1e" stroke="#1e1e1e" stroke-width="0.3" font-weight="normal" >PC9-PSAT1<tspan dy="-5" font-size="8.5">DN</tspan></text>
<text x="1.00" y="395.80" font-size="18" text-anchor="start" fill="#111" stroke="#111" stroke-width="0" font-weight="bold" >D</text>
<line x1="52.60" y1="396.80" x2="52.60" y2="503.00" stroke="#111" stroke-width="1.8" />
<line x1="51.70" y1="502.20" x2="129.50" y2="502.20" stroke="#111" stroke-width="1.8" />
<line x1="47.60" y1="502.20" x2="52.60" y2="502.20" stroke="#111" stroke-width="1.6" />
<text x="45.70" y="506.20" font-size="11.5" text-anchor="end" fill="#1e1e1e" stroke="#1e1e1e" stroke-width="0.3" font-weight="normal" >0</text>
<line x1="47.60" y1="467.35" x2="52.60" y2="467.35" stroke="#111" stroke-width="1.6" />
<text x="45.70" y="471.35" font-size="11.5" text-anchor="end" fill="#1e1e1e" stroke="#1e1e1e" stroke-width="0.3" font-weight="normal" >50</text>
<line x1="47.60" y1="432.50" x2="52.60" y2="432.50" stroke="#111" stroke-width="1.6" />
<text x="45.70" y="436.50" font-size="11.5" text-anchor="end" fill="#1e1e1e" stroke="#1e1e1e" stroke-width="0.3" font-weight="normal" >100</text>
<line x1="47.60" y1="397.65" x2="52.60" y2="397.65" stroke="#111" stroke-width="1.6" />
<text x="45.70" y="401.65" font-size="11.5" text-anchor="end" fill="#1e1e1e" stroke="#1e1e1e" stroke-width="0.3" font-weight="normal" >150</text>
<line x1="65.20" y1="502.20" x2="65.20" y2="506.70" stroke="#111" stroke-width="1.5" />
<text x="65.20" y="518.00" font-size="11.5" text-anchor="middle" fill="#1e1e1e" stroke="#1e1e1e" stroke-width="0.3" font-weight="normal" >PE</text>
<line x1="90.70" y1="502.20" x2="90.70" y2="506.70" stroke="#111" stroke-width="1.5" />
<text x="90.70" y="518.00" font-size="11.5" text-anchor="middle" fill="#1e1e1e" stroke="#1e1e1e" stroke-width="0.3" font-weight="normal" >PP</text>
<line x1="116.30" y1="502.20" x2="116.30" y2="506.70" stroke="#111" stroke-width="1.5" />
<text x="116.30" y="518.00" font-size="11.5" text-anchor="middle" fill="#1e1e1e" stroke="#1e1e1e" stroke-width="0.3" font-weight="normal" >PD</text>
<line x1="53.00" y1="521.70" x2="128.50" y2="521.70" stroke="#111" stroke-width="1.9" />
<text x="92.90" y="534.70" font-size="11.5" text-anchor="middle" fill="#1e1e1e" stroke="#1e1e1e" stroke-width="0.3" font-weight="normal" >D30/D9</text>
<text transform="translate(17.70,451.00) rotate(-90)" x="0" y="0" font-size="11.5" text-anchor="middle" fill="#1e1e1e" stroke="#1e1e1e" stroke-width="0.3">T/C ratio (%)</text>
<polyline points="65.5,400 65.5,396.5 110.5,396.5 110.5,399.5" fill="none" stroke="#111" stroke-width="1.6"/>
<text x="88.50" y="396.20" font-size="10.5" text-anchor="middle" fill="#1e1e1e" stroke="#1e1e1e" stroke-width="0.3" font-weight="normal" >**</text>
<polyline points="64.9,433 64.9,406.9 86.5,406.9 86.5,409.5" fill="none" stroke="#111" stroke-width="1.6"/>
<text x="75.50" y="406.90" font-size="10.5" text-anchor="middle" fill="#1e1e1e" stroke="#1e1e1e" stroke-width="0.3" font-weight="normal" >**</text>
<polyline points="93.5,409.5 93.5,406.9 117.7,406.9 117.7,414.6" fill="none" stroke="#111" stroke-width="1.6"/>
<text x="104.50" y="404.50" font-size="11.5" text-anchor="middle" fill="#1e1e1e" stroke="#1e1e1e" stroke-width="0.3" font-weight="normal" >n.s.</text>
<circle cx="65.4" cy="471.8" r="2.8" fill="#6e6e6e"/>
<circle cx="65.4" cy="477" r="2.8" fill="#6e6e6e"/>
<circle cx="59.2" cy="483.5" r="2.8" fill="#6e6e6e"/>
<circle cx="65.4" cy="488" r="2.8" fill="#6e6e6e"/>
<circle cx="71" cy="486" r="2.8" fill="#6e6e6e"/>
<circle cx="65.4" cy="499.7" r="2.8" fill="#6e6e6e"/>
<line x1="57.00" y1="485.00" x2="73.80" y2="485.00" stroke="#111" stroke-width="1.7" />
<circle cx="90.8" cy="413.5" r="2.8" fill="#e3262c"/>
<circle cx="90.8" cy="445" r="2.8" fill="#e3262c"/>
<circle cx="96.9" cy="449.5" r="2.8" fill="#e3262c"/>
<circle cx="85" cy="454" r="2.8" fill="#e3262c"/>
<circle cx="96.9" cy="460" r="2.8" fill="#e3262c"/>
<circle cx="85" cy="464.6" r="2.8" fill="#e3262c"/>
<line x1="82.60" y1="451.80" x2="98.90" y2="451.80" stroke="#111" stroke-width="1.7" />
<circle cx="116.5" cy="427.7" r="2.8" fill="#f07a2a"/>
<circle cx="116.5" cy="441.8" r="2.8" fill="#f07a2a"/>
<circle cx="116.5" cy="452" r="2.8" fill="#f07a2a"/>
<circle cx="116.5" cy="467.2" r="2.8" fill="#f07a2a"/>
<circle cx="122.3" cy="467.2" r="2.8" fill="#f07a2a"/>
<circle cx="110.5" cy="471.5" r="2.8" fill="#f07a2a"/>
<line x1="108.00" y1="459.70" x2="125.00" y2="459.70" stroke="#111" stroke-width="1.7" />
<text x="183.00" y="396.30" font-size="17" text-anchor="start" fill="#111" stroke="#111" stroke-width="0" font-weight="bold" >E</text>
<text x="268.30" y="398.70" font-size="11.6" text-anchor="middle" fill="#1e1e1e" stroke="#1e1e1e" stroke-width="0.3" font-weight="normal" >PC9-EV</text>
<text x="330.50" y="398.70" font-size="11.6" text-anchor="middle" fill="#1e1e1e" stroke="#1e1e1e" stroke-width="0.3" font-weight="normal" >PC9-PSAT1</text>
<text x="381.00" y="398.70" font-size="11.6" text-anchor="start" fill="#1e1e1e" stroke="#1e1e1e" stroke-width="0.3" font-weight="normal" >PC9-PSAT1<tspan dy="-5" font-size="8">DN</tspan></text>
<line x1="257.80" y1="402.80" x2="281.40" y2="402.80" stroke="#222" stroke-width="1.3" />
<line x1="289.50" y1="402.80" x2="371.50" y2="402.80" stroke="#222" stroke-width="1.3" />
<line x1="377.00" y1="402.80" x2="459.20" y2="402.80" stroke="#222" stroke-width="1.3" />
<text x="208.60" y="416.80" font-size="11.65" text-anchor="start" fill="#1e1e1e" stroke="#1e1e1e" stroke-width="0.3" font-weight="normal" >Vehicle</text>
<text x="208.60" y="434.20" font-size="11.65" text-anchor="start" fill="#1e1e1e" stroke="#1e1e1e" stroke-width="0.3" font-weight="normal" >Erlotinib</text>
<line x1="260.30" y1="412.50" x2="266.10" y2="412.50" stroke="#222" stroke-width="1.4" />
<line x1="263.20" y1="409.60" x2="263.20" y2="415.40" stroke="#222" stroke-width="1.4" />
<line x1="274.50" y1="412.50" x2="280.30" y2="412.50" stroke="#222" stroke-width="1.4" />
<line x1="292.10" y1="412.50" x2="297.90" y2="412.50" stroke="#222" stroke-width="1.4" />
<line x1="295.00" y1="409.60" x2="295.00" y2="415.40" stroke="#222" stroke-width="1.4" />
<line x1="302.10" y1="412.50" x2="307.90" y2="412.50" stroke="#222" stroke-width="1.4" />
<line x1="305.00" y1="409.60" x2="305.00" y2="415.40" stroke="#222" stroke-width="1.4" />
<line x1="319.90" y1="412.50" x2="325.70" y2="412.50" stroke="#222" stroke-width="1.4" />
<line x1="322.80" y1="409.60" x2="322.80" y2="415.40" stroke="#222" stroke-width="1.4" />
<line x1="334.60" y1="412.50" x2="340.40" y2="412.50" stroke="#222" stroke-width="1.4" />
<line x1="348.70" y1="412.50" x2="354.50" y2="412.50" stroke="#222" stroke-width="1.4" />
<line x1="362.60" y1="412.50" x2="368.40" y2="412.50" stroke="#222" stroke-width="1.4" />
<line x1="378.60" y1="412.50" x2="384.40" y2="412.50" stroke="#222" stroke-width="1.4" />
<line x1="381.50" y1="409.60" x2="381.50" y2="415.40" stroke="#222" stroke-width="1.4" />
<line x1="395.80" y1="412.50" x2="401.60" y2="412.50" stroke="#222" stroke-width="1.4" />
<line x1="398.70" y1="409.60" x2="398.70" y2="415.40" stroke="#222" stroke-width="1.4" />
<line x1="406.70" y1="412.50" x2="412.50" y2="412.50" stroke="#222" stroke-width="1.4" />
<line x1="409.60" y1="409.60" x2="409.60" y2="415.40" stroke="#222" stroke-width="1.4" />
<line x1="421.30" y1="412.50" x2="427.10" y2="412.50" stroke="#222" stroke-width="1.4" />
<line x1="441.70" y1="412.50" x2="447.50" y2="412.50" stroke="#222" stroke-width="1.4" />
<line x1="455.30" y1="412.50" x2="461.10" y2="412.50" stroke="#222" stroke-width="1.4" />
<line x1="260.30" y1="430.60" x2="266.10" y2="430.60" stroke="#222" stroke-width="1.4" />
<line x1="274.50" y1="430.60" x2="280.30" y2="430.60" stroke="#222" stroke-width="1.4" />
<line x1="277.40" y1="427.70" x2="277.40" y2="433.50" stroke="#222" stroke-width="1.4" />
<line x1="293.60" y1="430.60" x2="299.40" y2="430.60" stroke="#222" stroke-width="1.4" />
<line x1="306.80" y1="430.60" x2="312.60" y2="430.60" stroke="#222" stroke-width="1.4" />
<line x1="318.90" y1="430.60" x2="324.70" y2="430.60" stroke="#222" stroke-width="1.4" />
<line x1="333.90" y1="430.60" x2="339.70" y2="430.60" stroke="#222" stroke-width="1.4" />
<line x1="336.80" y1="427.70" x2="336.80" y2="433.50" stroke="#222" stroke-width="1.4" />
<line x1="351.60" y1="430.60" x2="357.40" y2="430.60" stroke="#222" stroke-width="1.4" />
<line x1="354.50" y1="427.70" x2="354.50" y2="433.50" stroke="#222" stroke-width="1.4" />
<line x1="366.40" y1="430.60" x2="372.20" y2="430.60" stroke="#222" stroke-width="1.4" />
<line x1="369.30" y1="427.70" x2="369.30" y2="433.50" stroke="#222" stroke-width="1.4" />
<line x1="379.00" y1="430.60" x2="384.80" y2="430.60" stroke="#222" stroke-width="1.4" />
<line x1="391.80" y1="430.60" x2="397.60" y2="430.60" stroke="#222" stroke-width="1.4" />
<line x1="405.90" y1="430.60" x2="411.70" y2="430.60" stroke="#222" stroke-width="1.4" />
<line x1="421.90" y1="430.60" x2="427.70" y2="430.60" stroke="#222" stroke-width="1.4" />
<line x1="424.80" y1="427.70" x2="424.80" y2="433.50" stroke="#222" stroke-width="1.4" />
<line x1="440.70" y1="430.60" x2="446.50" y2="430.60" stroke="#222" stroke-width="1.4" />
<line x1="443.60" y1="427.70" x2="443.60" y2="433.50" stroke="#222" stroke-width="1.4" />
<line x1="459.90" y1="430.60" x2="465.70" y2="430.60" stroke="#222" stroke-width="1.4" />
<line x1="462.80" y1="427.70" x2="462.80" y2="433.50" stroke="#222" stroke-width="1.4" />
<rect x="253.5" y="440.8" width="213.5" height="17.8" fill="#f8f8f8" stroke="#111" stroke-width="1.6"/>
<rect x="253.5" y="461.2" width="213.5" height="16.8" fill="#f8f8f8" stroke="#111" stroke-width="1.6"/>
<rect x="253.5" y="480.6" width="213.5" height="18.1" fill="#f8f8f8" stroke="#111" stroke-width="1.6"/>
<rect x="253.5" y="501.3" width="213.5" height="17.0" fill="#f8f8f8" stroke="#111" stroke-width="1.6"/>
<text x="247.00" y="453.90" font-size="11.5" text-anchor="end" fill="#1e1e1e" stroke="#1e1e1e" stroke-width="0.3" font-weight="normal" >PSAT1</text>
<text x="247.00" y="472.80" font-size="11.5" text-anchor="end" fill="#1e1e1e" stroke="#1e1e1e" stroke-width="0.3" font-weight="normal" >pSTAT3</text>
<text x="247.00" y="494.00" font-size="11.5" text-anchor="end" fill="#1e1e1e" stroke="#1e1e1e" stroke-width="0.3" font-weight="normal" >STAT3</text>
<text x="247.00" y="514.40" font-size="11.5" text-anchor="end" fill="#1e1e1e" stroke="#1e1e1e" stroke-width="0.3" font-weight="normal" >Ku86</text>
<g filter="url(#blur1)">
<rect x="256.5" y="446.4" width="12.4" height="4.8" rx="2.6" fill="#000" opacity="0.07"/>
<rect x="270.2" y="446.4" width="12.4" height="4.8" rx="2.6" fill="#000" opacity="0.06"/>
<rect x="288.0" y="446.4" width="12.8" height="4.8" rx="2.6" fill="#000" opacity="0.95"/>
<rect x="301.9" y="446.4" width="12.6" height="4.8" rx="2.6" fill="#000" opacity="0.95"/>
<rect x="316.7" y="446.4" width="12.6" height="4.8" rx="2.6" fill="#000" opacity="0.93"/>
<rect x="331.3" y="446.4" width="13" height="4.8" rx="2.6" fill="#000" opacity="0.95"/>
<rect x="346.1" y="446.4" width="13" height="4.8" rx="2.6" fill="#000" opacity="1.00"/>
<rect x="361.1" y="446.4" width="12.6" height="4.8" rx="2.6" fill="#000" opacity="0.95"/>
<rect x="375.0" y="446.4" width="12.4" height="4.8" rx="2.6" fill="#000" opacity="0.50"/>
<rect x="390.8" y="446.4" width="12.4" height="4.8" rx="2.6" fill="#000" opacity="0.58"/>
<rect x="405.5" y="446.4" width="12.6" height="4.8" rx="2.6" fill="#000" opacity="0.64"/>
<rect x="421.3" y="446.4" width="12.8" height="4.8" rx="2.6" fill="#000" opacity="0.85"/>
<rect x="437.0" y="446.4" width="13.2" height="4.8" rx="2.6" fill="#000" opacity="0.93"/>
<rect x="451.9" y="446.4" width="13" height="4.8" rx="2.6" fill="#000" opacity="0.85"/>
<rect x="256.5" y="467.1" width="12.4" height="2.8" rx="1.6" fill="#000" opacity="0.40"/>
<rect x="256.5" y="471.1" width="12.4" height="2.3" rx="1.4" fill="#000" opacity="0.15"/>
<rect x="270.2" y="467.1" width="12.4" height="2.8" rx="1.6" fill="#000" opacity="0.45"/>
<rect x="270.2" y="471.1" width="12.4" height="2.3" rx="1.4" fill="#000" opacity="0.18"/>
<rect x="288.2" y="467.1" width="12.4" height="2.8" rx="1.6" fill="#000" opacity="0.70"/>
<rect x="288.2" y="471.1" width="12.4" height="2.3" rx="1.4" fill="#000" opacity="0.42"/>
<rect x="302.0" y="467.1" width="12.4" height="2.8" rx="1.6" fill="#000" opacity="0.60"/>
<rect x="302.0" y="471.1" width="12.4" height="2.3" rx="1.4" fill="#000" opacity="0.30"/>
<rect x="316.8" y="467.1" width="12.4" height="2.8" rx="1.6" fill="#000" opacity="0.70"/>
<rect x="316.8" y="471.1" width="12.4" height="2.3" rx="1.4" fill="#000" opacity="0.33"/>
<rect x="331.6" y="467.1" width="12.4" height="2.8" rx="1.6" fill="#000" opacity="0.90"/>
<rect x="331.6" y="471.1" width="12.4" height="2.3" rx="1.4" fill="#000" opacity="0.50"/>
<rect x="346.4" y="467.1" width="12.4" height="2.8" rx="1.6" fill="#000" opacity="0.90"/>
<rect x="346.4" y="471.1" width="12.4" height="2.3" rx="1.4" fill="#000" opacity="0.45"/>
<rect x="361.2" y="467.1" width="12.4" height="2.8" rx="1.6" fill="#000" opacity="0.85"/>
<rect x="361.2" y="471.1" width="12.4" height="2.3" rx="1.4" fill="#000" opacity="0.30"/>
<rect x="375.0" y="467.1" width="12.4" height="2.8" rx="1.6" fill="#000" opacity="0.55"/>
<rect x="375.0" y="471.1" width="12.4" height="2.3" rx="1.4" fill="#000" opacity="0.20"/>
<rect x="390.8" y="467.1" width="12.4" height="2.8" rx="1.6" fill="#000" opacity="0.65"/>
<rect x="390.8" y="471.1" width="12.4" height="2.3" rx="1.4" fill="#000" opacity="0.25"/>
<rect x="405.6" y="467.1" width="12.4" height="2.8" rx="1.6" fill="#000" opacity="0.70"/>
<rect x="405.6" y="471.1" width="12.4" height="2.3" rx="1.4" fill="#000" opacity="0.25"/>
<rect x="421.5" y="467.1" width="12.4" height="2.8" rx="1.6" fill="#000" opacity="0.80"/>
<rect x="421.5" y="471.1" width="12.4" height="2.3" rx="1.4" fill="#000" opacity="0.33"/>
<rect x="437.4" y="467.1" width="12.4" height="2.8" rx="1.6" fill="#000" opacity="0.80"/>
<rect x="437.4" y="471.1" width="12.4" height="2.3" rx="1.4" fill="#000" opacity="0.38"/>
<rect x="452.2" y="467.1" width="12.4" height="2.8" rx="1.6" fill="#000" opacity="0.75"/>
<rect x="452.2" y="471.1" width="12.4" height="2.3" rx="1.4" fill="#000" opacity="0.33"/>
<rect x="256.2" y="486.1" width="13" height="5.2" rx="2.6" fill="#000" opacity="0.95"/>
<rect x="256.2" y="491.3" width="13" height="3.0" rx="1.6" fill="#000" opacity="0.32"/>
<rect x="270.1" y="486.1" width="12.6" height="5.2" rx="2.6" fill="#000" opacity="0.95"/>
<rect x="270.1" y="491.3" width="12.6" height="3.0" rx="1.6" fill="#000" opacity="0.32"/>
<rect x="287.4" y="486.1" width="14" height="5.2" rx="2.6" fill="#000" opacity="0.95"/>
<rect x="287.4" y="491.3" width="14" height="3.0" rx="1.6" fill="#000" opacity="0.32"/>
<rect x="301.7" y="486.1" width="13" height="5.2" rx="2.6" fill="#000" opacity="0.95"/>
<rect x="301.7" y="491.3" width="13" height="3.0" rx="1.6" fill="#000" opacity="0.32"/>
<rect x="316.5" y="486.1" width="13" height="5.2" rx="2.6" fill="#000" opacity="0.95"/>
<rect x="316.5" y="491.3" width="13" height="3.0" rx="1.6" fill="#000" opacity="0.32"/>
<rect x="331.3" y="486.1" width="13" height="5.2" rx="2.6" fill="#000" opacity="0.95"/>
<rect x="331.3" y="491.3" width="13" height="3.0" rx="1.6" fill="#000" opacity="0.32"/>
<rect x="345.8" y="486.1" width="13.6" height="5.2" rx="2.6" fill="#000" opacity="0.95"/>
<rect x="345.8" y="491.3" width="13.6" height="3.0" rx="1.6" fill="#000" opacity="0.32"/>
<rect x="360.9" y="486.1" width="13" height="5.2" rx="2.6" fill="#000" opacity="0.95"/>
<rect x="360.9" y="491.3" width="13" height="3.0" rx="1.6" fill="#000" opacity="0.32"/>
<rect x="374.9" y="486.1" width="12.6" height="5.2" rx="2.6" fill="#000" opacity="0.95"/>
<rect x="374.9" y="491.3" width="12.6" height="3.0" rx="1.6" fill="#000" opacity="0.32"/>
<rect x="390.7" y="486.1" width="12.6" height="5.2" rx="2.6" fill="#000" opacity="0.95"/>
<rect x="390.7" y="491.3" width="12.6" height="3.0" rx="1.6" fill="#000" opacity="0.32"/>
<rect x="405.5" y="486.1" width="12.6" height="5.2" rx="2.6" fill="#000" opacity="0.95"/>
<rect x="405.5" y="491.3" width="12.6" height="3.0" rx="1.6" fill="#000" opacity="0.32"/>
<rect x="421.4" y="486.1" width="12.6" height="5.2" rx="2.6" fill="#000" opacity="0.95"/>
<rect x="421.4" y="491.3" width="12.6" height="3.0" rx="1.6" fill="#000" opacity="0.32"/>
<rect x="437.3" y="486.1" width="12.6" height="5.2" rx="2.6" fill="#000" opacity="0.95"/>
<rect x="437.3" y="491.3" width="12.6" height="3.0" rx="1.6" fill="#000" opacity="0.32"/>
<rect x="452.1" y="486.1" width="12.6" height="5.2" rx="2.6" fill="#000" opacity="0.95"/>
<rect x="452.1" y="491.3" width="12.6" height="3.0" rx="1.6" fill="#000" opacity="0.32"/>
<rect x="256.3" y="508.2" width="12.8" height="3.8" rx="2.2" fill="#000" opacity="0.95"/>
<rect x="270.0" y="508.2" width="12.8" height="3.8" rx="2.2" fill="#000" opacity="0.95"/>
<rect x="288.0" y="508.2" width="12.8" height="3.8" rx="2.2" fill="#000" opacity="0.95"/>
<rect x="301.8" y="508.2" width="12.8" height="3.8" rx="2.2" fill="#000" opacity="0.95"/>
<rect x="316.6" y="508.2" width="12.8" height="3.8" rx="2.2" fill="#000" opacity="0.95"/>
<rect x="331.4" y="508.2" width="12.8" height="3.8" rx="2.2" fill="#000" opacity="0.95"/>
<rect x="346.2" y="508.2" width="12.8" height="3.8" rx="2.2" fill="#000" opacity="0.95"/>
<rect x="361.0" y="508.2" width="12.8" height="3.8" rx="2.2" fill="#000" opacity="0.95"/>
<rect x="374.8" y="508.2" width="12.8" height="3.8" rx="2.2" fill="#000" opacity="0.95"/>
<rect x="390.6" y="508.2" width="12.8" height="3.8" rx="2.2" fill="#000" opacity="0.95"/>
<rect x="405.4" y="508.2" width="12.8" height="3.8" rx="2.2" fill="#000" opacity="0.95"/>
<rect x="421.3" y="508.2" width="12.8" height="3.8" rx="2.2" fill="#000" opacity="0.95"/>
<rect x="437.2" y="508.2" width="12.8" height="3.8" rx="2.2" fill="#000" opacity="0.95"/>
<rect x="452.0" y="508.2" width="12.8" height="3.8" rx="2.2" fill="#000" opacity="0.95"/>
</g>
<text x="1.50" y="564.60" font-size="17" text-anchor="start" fill="#111" stroke="#111" stroke-width="0" font-weight="bold" >F</text>
<rect x="37.6" y="580.6" width="105.5" height="105.5" fill="none" stroke="#111" stroke-width="1.8"/>
<line x1="32.60" y1="686.10" x2="37.60" y2="686.10" stroke="#111" stroke-width="1.6" />
<text x="30.60" y="690.30" font-size="11.5" text-anchor="end" fill="#1e1e1e" stroke="#1e1e1e" stroke-width="0.3" font-weight="normal" >0</text>
<line x1="32.60" y1="659.73" x2="37.60" y2="659.73" stroke="#111" stroke-width="1.6" />
<text x="30.60" y="663.93" font-size="11.5" text-anchor="end" fill="#1e1e1e" stroke="#1e1e1e" stroke-width="0.3" font-weight="normal" >1</text>
<line x1="32.60" y1="633.35" x2="37.60" y2="633.35" stroke="#111" stroke-width="1.6" />
<text x="30.60" y="637.55" font-size="11.5" text-anchor="end" fill="#1e1e1e" stroke="#1e1e1e" stroke-width="0.3" font-weight="normal" >2</text>
<line x1="32.60" y1="606.98" x2="37.60" y2="606.98" stroke="#111" stroke-width="1.6" />
<text x="30.60" y="611.18" font-size="11.5" text-anchor="end" fill="#1e1e1e" stroke="#1e1e1e" stroke-width="0.3" font-weight="normal" >3</text>
<line x1="32.60" y1="580.60" x2="37.60" y2="580.60" stroke="#111" stroke-width="1.6" />
<text x="30.60" y="584.80" font-size="11.5" text-anchor="end" fill="#1e1e1e" stroke="#1e1e1e" stroke-width="0.3" font-weight="normal" >4</text>
<line x1="37.60" y1="686.10" x2="37.60" y2="690.10" stroke="#111" stroke-width="1.6" />
<text x="37.60" y="704.00" font-size="11.5" text-anchor="middle" fill="#1e1e1e" stroke="#1e1e1e" stroke-width="0.3" font-weight="normal" >0</text>
<line x1="72.77" y1="686.10" x2="72.77" y2="690.10" stroke="#111" stroke-width="1.6" />
<text x="72.77" y="704.00" font-size="11.5" text-anchor="middle" fill="#1e1e1e" stroke="#1e1e1e" stroke-width="0.3" font-weight="normal" >4</text>
<line x1="107.93" y1="686.10" x2="107.93" y2="690.10" stroke="#111" stroke-width="1.6" />
<text x="107.93" y="704.00" font-size="11.5" text-anchor="middle" fill="#1e1e1e" stroke="#1e1e1e" stroke-width="0.3" font-weight="normal" >8</text>
<line x1="143.10" y1="686.10" x2="143.10" y2="690.10" stroke="#111" stroke-width="1.6" />
<text x="143.10" y="704.00" font-size="11.5" text-anchor="middle" fill="#1e1e1e" stroke="#1e1e1e" stroke-width="0.3" font-weight="normal" >12</text>
<text x="89.50" y="717.70" font-size="11.5" text-anchor="middle" fill="#1e1e1e" stroke="#1e1e1e" stroke-width="0.3" font-weight="normal" >PSAT1</text>
<text transform="translate(11.60,632.50) rotate(-90)" x="0" y="0" font-size="11.5" text-anchor="middle" fill="#1e1e1e" stroke="#1e1e1e" stroke-width="0.3">pSTAT3</text>
<text x="41.30" y="592.30" font-size="10.9" text-anchor="start" fill="#1e1e1e" stroke="#1e1e1e" stroke-width="0.3" font-weight="normal" ><tspan font-style="italic">R</tspan> = 0.72</text>
<text x="40.80" y="604.80" font-size="10.9" text-anchor="start" fill="#1e1e1e" stroke="#1e1e1e" stroke-width="0.3" font-weight="normal" ><tspan font-style="italic">P</tspan> = 0.0035</text>
<line x1="45.00" y1="651.90" x2="125.10" y2="617.80" stroke="#5a5ea8" stroke-width="1.6" />
<circle cx="45.5" cy="652.4" r="2.0" fill="#111"/>
<circle cx="45.7" cy="660" r="2.0" fill="#111"/>
<circle cx="81.2" cy="643.2" r="2.0" fill="#111"/>
<circle cx="85.8" cy="632.3" r="2.0" fill="#111"/>
<circle cx="92.3" cy="618.5" r="2.0" fill="#111"/>
<circle cx="93.5" cy="626.5" r="2.0" fill="#111"/>
<circle cx="106.2" cy="615.7" r="2.0" fill="#111"/>
<circle cx="111.2" cy="610.8" r="2.0" fill="#111"/>
<circle cx="113.5" cy="613.8" r="2.0" fill="#111"/>
<circle cx="116.1" cy="616.2" r="2.0" fill="#111"/>
<circle cx="116.5" cy="644.3" r="2.0" fill="#111"/>
<circle cx="123.5" cy="633.5" r="2.0" fill="#111"/>
<circle cx="125" cy="625.4" r="2.0" fill="#111"/>
<text x="179.50" y="564.50" font-size="17" text-anchor="start" fill="#111" stroke="#111" stroke-width="0" font-weight="bold" >G</text>
<line x1="241.60" y1="572.50" x2="241.60" y2="679.80" stroke="#111" stroke-width="1.8" />
<line x1="240.70" y1="679.00" x2="414.60" y2="679.00" stroke="#111" stroke-width="1.8" />
<line x1="237.10" y1="679.00" x2="241.60" y2="679.00" stroke="#111" stroke-width="1.6" />
<text x="234.00" y="683.00" font-size="11.5" text-anchor="end" fill="#1e1e1e" stroke="#1e1e1e" stroke-width="0.3" font-weight="normal" >0</text>
<line x1="237.10" y1="652.65" x2="241.60" y2="652.65" stroke="#111" stroke-width="1.6" />
<text x="234.00" y="656.65" font-size="11.5" text-anchor="end" fill="#1e1e1e" stroke="#1e1e1e" stroke-width="0.3" font-weight="normal" >500</text>
<line x1="237.10" y1="626.30" x2="241.60" y2="626.30" stroke="#111" stroke-width="1.6" />
<text x="234.00" y="630.30" font-size="11.5" text-anchor="end" fill="#1e1e1e" stroke="#1e1e1e" stroke-width="0.3" font-weight="normal" >1,000</text>
<line x1="237.10" y1="599.95" x2="241.60" y2="599.95" stroke="#111" stroke-width="1.6" />
<text x="234.00" y="603.95" font-size="11.5" text-anchor="end" fill="#1e1e1e" stroke="#1e1e1e" stroke-width="0.3" font-weight="normal" >1,500</text>
<line x1="237.10" y1="573.60" x2="241.60" y2="573.60" stroke="#111" stroke-width="1.6" />
<text x="234.00" y="577.60" font-size="11.5" text-anchor="end" fill="#1e1e1e" stroke="#1e1e1e" stroke-width="0.3" font-weight="normal" >2,000</text>
<line x1="245.10" y1="679.00" x2="245.10" y2="683.00" stroke="#111" stroke-width="1.5" />
<text x="245.10" y="693.60" font-size="11.5" text-anchor="middle" fill="#1e1e1e" stroke="#1e1e1e" stroke-width="0.3" font-weight="normal" >14</text>
<line x1="269.25" y1="679.00" x2="269.25" y2="683.00" stroke="#111" stroke-width="1.5" />
<text x="269.25" y="693.60" font-size="11.5" text-anchor="middle" fill="#1e1e1e" stroke="#1e1e1e" stroke-width="0.3" font-weight="normal" >21</text>
<line x1="293.40" y1="679.00" x2="293.40" y2="683.00" stroke="#111" stroke-width="1.5" />
<text x="293.40" y="693.60" font-size="11.5" text-anchor="middle" fill="#1e1e1e" stroke="#1e1e1e" stroke-width="0.3" font-weight="normal" >28</text>
<line x1="317.55" y1="679.00" x2="317.55" y2="683.00" stroke="#111" stroke-width="1.5" />
<text x="317.55" y="693.60" font-size="11.5" text-anchor="middle" fill="#1e1e1e" stroke="#1e1e1e" stroke-width="0.3" font-weight="normal" >35</text>
<line x1="341.70" y1="679.00" x2="341.70" y2="683.00" stroke="#111" stroke-width="1.5" />
<text x="341.70" y="693.60" font-size="11.5" text-anchor="middle" fill="#1e1e1e" stroke="#1e1e1e" stroke-width="0.3" font-weight="normal" >42</text>
<line x1="365.85" y1="679.00" x2="365.85" y2="683.00" stroke="#111" stroke-width="1.5" />
<text x="365.85" y="693.60" font-size="11.5" text-anchor="middle" fill="#1e1e1e" stroke="#1e1e1e" stroke-width="0.3" font-weight="normal" >49</text>
<line x1="390.00" y1="679.00" x2="390.00" y2="683.00" stroke="#111" stroke-width="1.5" />
<text x="390.00" y="693.60" font-size="11.5" text-anchor="middle" fill="#1e1e1e" stroke="#1e1e1e" stroke-width="0.3" font-weight="normal" >56</text>
<line x1="414.15" y1="679.00" x2="414.15" y2="683.00" stroke="#111" stroke-width="1.5" />
<text x="414.15" y="693.60" font-size="11.5" text-anchor="middle" fill="#1e1e1e" stroke="#1e1e1e" stroke-width="0.3" font-weight="normal" >63</text>
<text x="328.60" y="704.20" font-size="11.5" text-anchor="middle" fill="#1e1e1e" stroke="#1e1e1e" stroke-width="0.3" font-weight="normal" >Days after injection</text>
<text transform="translate(195.60,625.70) rotate(-90)" x="0" y="0" font-size="11.5" text-anchor="middle" fill="#1e1e1e" stroke="#1e1e1e" stroke-width="0.3">Tumor volume (mm<tspan dy="-4" font-size="8">3</tspan><tspan dy="4">)</tspan></text>
<polyline points="242.00,675.80 255.80,676.30 269.60,676.30 283.10,676.30 293.80,675.60 304.10,675.60 314.90,675.00 324.80,675.00 338.80,673.80 348.80,673.20 362.60,672.70 370.20,671.20 380.20,668.80 387.10,668.30 397.30,667.70 411.20,664.40" fill="none" stroke="#858585" stroke-width="1.9" stroke-linejoin="round" />
<polygon points="242.00,672.12 245.52,678.36 238.48,678.36" fill="#858585"/>
<polygon points="255.80,672.62 259.32,678.86 252.28,678.86" fill="#858585"/>
<polygon points="269.60,672.62 273.12,678.86 266.08,678.86" fill="#858585"/>
<polygon points="283.10,672.62 286.62,678.86 279.58,678.86" fill="#858585"/>
<polygon points="293.80,671.92 297.32,678.16 290.28,678.16" fill="#858585"/>
<polygon points="304.10,671.92 307.62,678.16 300.58,678.16" fill="#858585"/>
<polygon points="314.90,671.32 318.42,677.56 311.38,677.56" fill="#858585"/>
<polygon points="324.80,671.32 328.32,677.56 321.28,677.56" fill="#858585"/>
<polygon points="338.80,670.12 342.32,676.36 335.28,676.36" fill="#858585"/>
<polygon points="348.80,669.52 352.32,675.76 345.28,675.76" fill="#858585"/>
<polygon points="362.60,669.02 366.12,675.26 359.08,675.26" fill="#858585"/>
<polygon points="370.20,667.52 373.72,673.76 366.68,673.76" fill="#858585"/>
<polygon points="380.20,665.12 383.72,671.36 376.68,671.36" fill="#858585"/>
<polygon points="387.10,664.62 390.62,670.86 383.58,670.86" fill="#858585"/>
<polygon points="397.30,664.02 400.82,670.26 393.78,670.26" fill="#858585"/>
<polygon points="411.20,660.72 414.72,666.96 407.68,666.96" fill="#858585"/>
<line x1="348.80" y1="642.50" x2="348.80" y2="638.00" stroke="#f2762d" stroke-width="1.5" />
<line x1="346.20" y1="638.00" x2="351.40" y2="638.00" stroke="#f2762d" stroke-width="1.5" />
<line x1="362.60" y1="638.10" x2="362.60" y2="634.00" stroke="#f2762d" stroke-width="1.5" />
<line x1="360.00" y1="634.00" x2="365.20" y2="634.00" stroke="#f2762d" stroke-width="1.5" />
<line x1="370.20" y1="635.50" x2="370.20" y2="631.50" stroke="#f2762d" stroke-width="1.5" />
<line x1="367.60" y1="631.50" x2="372.80" y2="631.50" stroke="#f2762d" stroke-width="1.5" />
<line x1="380.20" y1="631.70" x2="380.20" y2="625.50" stroke="#f2762d" stroke-width="1.5" />
<line x1="377.60" y1="625.50" x2="382.80" y2="625.50" stroke="#f2762d" stroke-width="1.5" />
<line x1="387.10" y1="628.80" x2="387.10" y2="623.00" stroke="#f2762d" stroke-width="1.5" />
<line x1="384.50" y1="623.00" x2="389.70" y2="623.00" stroke="#f2762d" stroke-width="1.5" />
<line x1="397.30" y1="626.90" x2="397.30" y2="621.50" stroke="#f2762d" stroke-width="1.5" />
<line x1="394.70" y1="621.50" x2="399.90" y2="621.50" stroke="#f2762d" stroke-width="1.5" />
<line x1="411.20" y1="622.10" x2="411.20" y2="615.50" stroke="#f2762d" stroke-width="1.5" />
<line x1="408.60" y1="615.50" x2="413.80" y2="615.50" stroke="#f2762d" stroke-width="1.5" />
<polyline points="242.00,669.00 255.80,665.00 269.60,661.80 283.10,659.10 293.80,654.80 304.10,652.90 314.90,651.00 324.80,648.30 338.80,644.80 348.80,642.50 362.60,638.10 370.20,635.50 380.20,631.70 387.10,628.80 397.30,626.90 411.20,622.10" fill="none" stroke="#f2762d" stroke-width="1.9" stroke-linejoin="round" />
<polygon points="242.00,665.32 245.52,671.56 238.48,671.56" fill="#f2762d"/>
<polygon points="255.80,661.32 259.32,667.56 252.28,667.56" fill="#f2762d"/>
<polygon points="269.60,658.12 273.12,664.36 266.08,664.36" fill="#f2762d"/>
<polygon points="283.10,655.42 286.62,661.66 279.58,661.66" fill="#f2762d"/>
<polygon points="293.80,651.12 297.32,657.36 290.28,657.36" fill="#f2762d"/>
<polygon points="304.10,649.22 307.62,655.46 300.58,655.46" fill="#f2762d"/>
<polygon points="314.90,647.32 318.42,653.56 311.38,653.56" fill="#f2762d"/>
<polygon points="324.80,644.62 328.32,650.86 321.28,650.86" fill="#f2762d"/>
<polygon points="338.80,641.12 342.32,647.36 335.28,647.36" fill="#f2762d"/>
<polygon points="348.80,638.82 352.32,645.06 345.28,645.06" fill="#f2762d"/>
<polygon points="362.60,634.42 366.12,640.66 359.08,640.66" fill="#f2762d"/>
<polygon points="370.20,631.82 373.72,638.06 366.68,638.06" fill="#f2762d"/>
<polygon points="380.20,628.02 383.72,634.26 376.68,634.26" fill="#f2762d"/>
<polygon points="387.10,625.12 390.62,631.36 383.58,631.36" fill="#f2762d"/>
<polygon points="397.30,623.22 400.82,629.46 393.78,629.46" fill="#f2762d"/>
<polygon points="411.20,618.42 414.72,624.66 407.68,624.66" fill="#f2762d"/>
<line x1="304.10" y1="637.30" x2="304.10" y2="633.50" stroke="#111" stroke-width="1.5" />
<line x1="301.50" y1="633.50" x2="306.70" y2="633.50" stroke="#111" stroke-width="1.5" />
<line x1="314.90" y1="632.20" x2="314.90" y2="628.50" stroke="#111" stroke-width="1.5" />
<line x1="312.30" y1="628.50" x2="317.50" y2="628.50" stroke="#111" stroke-width="1.5" />
<line x1="324.80" y1="628.70" x2="324.80" y2="625.00" stroke="#111" stroke-width="1.5" />
<line x1="322.20" y1="625.00" x2="327.40" y2="625.00" stroke="#111" stroke-width="1.5" />
<line x1="338.80" y1="621.40" x2="338.80" y2="616.50" stroke="#111" stroke-width="1.5" />
<line x1="336.20" y1="616.50" x2="341.40" y2="616.50" stroke="#111" stroke-width="1.5" />
<line x1="349.00" y1="613.80" x2="349.00" y2="608.50" stroke="#111" stroke-width="1.5" />
<line x1="346.40" y1="608.50" x2="351.60" y2="608.50" stroke="#111" stroke-width="1.5" />
<polyline points="242.50,675.00 255.80,668.50 269.60,661.80 283.10,654.20 293.80,645.40 304.10,637.30 314.90,632.20 324.80,628.70 338.80,621.40 349.00,613.80" fill="none" stroke="#111" stroke-width="1.9" stroke-linejoin="round" />
<circle cx="242.50" cy="675.00" r="2.70" fill="#fff" stroke="#111" stroke-width="1.9"/>
<circle cx="255.80" cy="668.50" r="2.70" fill="#fff" stroke="#111" stroke-width="1.9"/>
<circle cx="269.60" cy="661.80" r="2.70" fill="#fff" stroke="#111" stroke-width="1.9"/>
<circle cx="283.10" cy="654.20" r="2.70" fill="#fff" stroke="#111" stroke-width="1.9"/>
<circle cx="293.80" cy="645.40" r="2.70" fill="#fff" stroke="#111" stroke-width="1.9"/>
<circle cx="304.10" cy="637.30" r="2.70" fill="#fff" stroke="#111" stroke-width="1.9"/>
<circle cx="314.90" cy="632.20" r="2.70" fill="#fff" stroke="#111" stroke-width="1.9"/>
<circle cx="324.80" cy="628.70" r="2.70" fill="#fff" stroke="#111" stroke-width="1.9"/>
<circle cx="338.80" cy="621.40" r="2.70" fill="#fff" stroke="#111" stroke-width="1.9"/>
<circle cx="349.00" cy="613.80" r="2.70" fill="#fff" stroke="#111" stroke-width="1.9"/>
<line x1="255.80" y1="652.40" x2="255.80" y2="648.00" stroke="#e2282f" stroke-width="1.5" />
<line x1="253.20" y1="648.00" x2="258.40" y2="648.00" stroke="#e2282f" stroke-width="1.5" />
<line x1="269.60" y1="642.70" x2="269.60" y2="637.50" stroke="#e2282f" stroke-width="1.5" />
<line x1="267.00" y1="637.50" x2="272.20" y2="637.50" stroke="#e2282f" stroke-width="1.5" />
<line x1="283.10" y1="631.40" x2="283.10" y2="625.00" stroke="#e2282f" stroke-width="1.5" />
<line x1="280.50" y1="625.00" x2="285.70" y2="625.00" stroke="#e2282f" stroke-width="1.5" />
<line x1="293.80" y1="620.60" x2="293.80" y2="611.50" stroke="#e2282f" stroke-width="1.5" />
<line x1="291.20" y1="611.50" x2="296.40" y2="611.50" stroke="#e2282f" stroke-width="1.5" />
<line x1="304.10" y1="614.40" x2="304.10" y2="605.00" stroke="#e2282f" stroke-width="1.5" />
<line x1="301.50" y1="605.00" x2="306.70" y2="605.00" stroke="#e2282f" stroke-width="1.5" />
<line x1="314.90" y1="607.90" x2="314.90" y2="599.00" stroke="#e2282f" stroke-width="1.5" />
<line x1="312.30" y1="599.00" x2="317.50" y2="599.00" stroke="#e2282f" stroke-width="1.5" />
<line x1="324.80" y1="603.10" x2="324.80" y2="595.00" stroke="#e2282f" stroke-width="1.5" />
<line x1="322.20" y1="595.00" x2="327.40" y2="595.00" stroke="#e2282f" stroke-width="1.5" />
<line x1="338.80" y1="595.00" x2="338.80" y2="584.00" stroke="#e2282f" stroke-width="1.5" />
<line x1="336.20" y1="584.00" x2="341.40" y2="584.00" stroke="#e2282f" stroke-width="1.5" />
<line x1="349.00" y1="588.30" x2="349.00" y2="578.80" stroke="#e2282f" stroke-width="1.5" />
<line x1="346.40" y1="578.80" x2="351.60" y2="578.80" stroke="#e2282f" stroke-width="1.5" />
<polyline points="242.50,663.10 255.80,652.40 269.60,642.70 283.10,631.40 293.80,620.60 304.10,614.40 314.90,607.90 324.80,603.10 338.80,595.00 349.00,588.30" fill="none" stroke="#e2282f" stroke-width="1.9" stroke-linejoin="round" />
<circle cx="242.50" cy="663.10" r="2.70" fill="#fff" stroke="#e2282f" stroke-width="1.9"/>
<circle cx="255.80" cy="652.40" r="2.70" fill="#fff" stroke="#e2282f" stroke-width="1.9"/>
<circle cx="269.60" cy="642.70" r="2.70" fill="#fff" stroke="#e2282f" stroke-width="1.9"/>
<circle cx="283.10" cy="631.40" r="2.70" fill="#fff" stroke="#e2282f" stroke-width="1.9"/>
<circle cx="293.80" cy="620.60" r="2.70" fill="#fff" stroke="#e2282f" stroke-width="1.9"/>
<circle cx="304.10" cy="614.40" r="2.70" fill="#fff" stroke="#e2282f" stroke-width="1.9"/>
<circle cx="314.90" cy="607.90" r="2.70" fill="#fff" stroke="#e2282f" stroke-width="1.9"/>
<circle cx="324.80" cy="603.10" r="2.70" fill="#fff" stroke="#e2282f" stroke-width="1.9"/>
<circle cx="338.80" cy="595.00" r="2.70" fill="#fff" stroke="#e2282f" stroke-width="1.9"/>
<circle cx="349.00" cy="588.30" r="2.70" fill="#fff" stroke="#e2282f" stroke-width="1.9"/>
<line x1="418.00" y1="581.50" x2="435.80" y2="581.50" stroke="#111" stroke-width="1.9" />
<circle cx="426.90" cy="581.50" r="2.30" fill="#fff" stroke="#111" stroke-width="2.0"/>
<text x="445.70" y="585.10" font-size="11.5" text-anchor="start" fill="#2a2a2a" stroke="#2a2a2a" stroke-width="0.3" font-weight="normal" >HE + Vehicle</text>
<line x1="418.00" y1="594.73" x2="435.80" y2="594.73" stroke="#858585" stroke-width="1.9" />
<polygon points="426.90,591.05 430.42,597.29 423.38,597.29" fill="#858585"/>
<text x="445.70" y="598.33" font-size="11.5" text-anchor="start" fill="#2a2a2a" stroke="#2a2a2a" stroke-width="0.3" font-weight="normal" >HE + Erlotinb</text>
<line x1="418.00" y1="607.96" x2="435.80" y2="607.96" stroke="#e2282f" stroke-width="1.9" />
<circle cx="426.90" cy="607.96" r="2.30" fill="#fff" stroke="#e2282f" stroke-width="2.0"/>
<text x="445.70" y="611.56" font-size="11.5" text-anchor="start" fill="#2a2a2a" stroke="#2a2a2a" stroke-width="0.3" font-weight="normal" >HP + Vehicle</text>
<line x1="418.00" y1="621.19" x2="435.80" y2="621.19" stroke="#f2762d" stroke-width="1.9" />
<polygon points="426.90,617.51 430.42,623.75 423.38,623.75" fill="#f2762d"/>
<text x="445.70" y="624.79" font-size="11.5" text-anchor="start" fill="#2a2a2a" stroke="#2a2a2a" stroke-width="0.3" font-weight="normal" >HP + Erlotinib</text>
<polygon points="256,715.4 377.1,706.0 377.1,715.6" fill="url(#gG)"/>
<text x="195.00" y="717.50" font-size="11.2" text-anchor="start" fill="#1e1e1e" stroke="#1e1e1e" stroke-width="0.3" font-weight="normal" >Erlotinib</text>
<text x="240.50" y="717.50" font-size="11.2" text-anchor="start" fill="#1e1e1e" stroke="#1e1e1e" stroke-width="0.3" font-weight="normal" >10</text>
<text x="381.90" y="717.30" font-size="11.2" text-anchor="start" fill="#1e1e1e" stroke="#1e1e1e" stroke-width="0.3" font-weight="normal" >60 mpk</text>
</svg></body></html>
